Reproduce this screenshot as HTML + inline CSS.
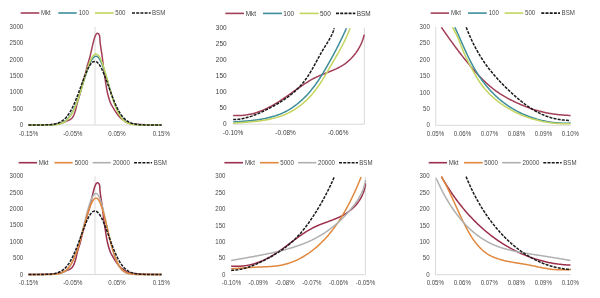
<!DOCTYPE html>
<html><head><meta charset="utf-8"><style>
html,body{margin:0;padding:0;background:#fff;}
svg{display:block;filter:blur(0.3px);}
text{font-family:"Liberation Sans", sans-serif;}
</style></head><body>
<svg width="600" height="298" viewBox="0 0 600 298">
<rect width="600" height="298" fill="#fff"/>
<text transform="translate(23.20,127.10) scale(0.900,1)" text-anchor="end" font-size="6.80" fill="#474747">0</text>
<text transform="translate(23.20,110.77) scale(0.900,1)" text-anchor="end" font-size="6.80" fill="#474747">500</text>
<text transform="translate(23.20,94.43) scale(0.900,1)" text-anchor="end" font-size="6.80" fill="#474747">1000</text>
<text transform="translate(23.20,78.10) scale(0.900,1)" text-anchor="end" font-size="6.80" fill="#474747">1500</text>
<text transform="translate(23.20,61.77) scale(0.900,1)" text-anchor="end" font-size="6.80" fill="#474747">2000</text>
<text transform="translate(23.20,45.43) scale(0.900,1)" text-anchor="end" font-size="6.80" fill="#474747">2500</text>
<text transform="translate(23.20,29.10) scale(0.900,1)" text-anchor="end" font-size="6.80" fill="#474747">3000</text>
<line x1="28.00" y1="125.00" x2="162.00" y2="125.00" stroke="#d9d9d9" stroke-width="1.00"/>
<line x1="95.00" y1="27.00" x2="95.00" y2="125.00" stroke="#d9d9d9" stroke-width="1.00"/>
<text transform="translate(28.50,135.50) scale(0.900,1)" text-anchor="middle" font-size="6.80" fill="#474747">-0.15%</text>
<text transform="translate(72.80,135.50) scale(0.900,1)" text-anchor="middle" font-size="6.80" fill="#474747">-0.05%</text>
<text transform="translate(117.00,135.50) scale(0.900,1)" text-anchor="middle" font-size="6.80" fill="#474747">0.05%</text>
<text transform="translate(161.30,135.50) scale(0.900,1)" text-anchor="middle" font-size="6.80" fill="#474747">0.15%</text>
<line x1="20.70" y1="13.00" x2="39.30" y2="13.00" stroke="#a23f58" stroke-width="1.6"/>
<text transform="translate(40.90,15.10) scale(0.900,1)" text-anchor="start" font-size="6.80" fill="#474747">Mkt</text>
<line x1="58.30" y1="13.00" x2="76.70" y2="13.00" stroke="#3e8e9b" stroke-width="1.6"/>
<text transform="translate(78.70,15.10) scale(0.900,1)" text-anchor="start" font-size="6.80" fill="#474747">100</text>
<line x1="95.00" y1="13.00" x2="113.70" y2="13.00" stroke="#c3d45f" stroke-width="1.6"/>
<text transform="translate(115.30,15.10) scale(0.900,1)" text-anchor="start" font-size="6.80" fill="#474747">500</text>
<line x1="132.00" y1="13.00" x2="150.70" y2="13.00" stroke="#1a1a1a" stroke-width="1.6" stroke-dasharray="3,1.2"/>
<text transform="translate(152.00,15.10) scale(0.900,1)" text-anchor="start" font-size="6.80" fill="#474747">BSM</text>
<path d="M28.50,124.90 C31.25,124.88 40.58,124.92 45.00,124.80 C49.42,124.68 52.50,124.42 55.00,124.20 C57.50,123.98 58.50,123.80 60.00,123.50 C61.50,123.20 62.98,122.77 64.00,122.40 C65.02,122.03 65.08,121.75 66.10,121.30 C67.12,120.85 68.93,120.47 70.10,119.70 C71.27,118.93 72.18,118.30 73.10,116.70 C74.02,115.10 74.87,112.55 75.60,110.10 C76.33,107.65 76.82,104.52 77.50,102.00 C78.18,99.48 79.03,97.33 79.70,95.00 C80.37,92.67 80.87,90.50 81.50,88.00 C82.13,85.50 82.83,82.50 83.50,80.00 C84.17,77.50 84.83,75.50 85.50,73.00 C86.17,70.50 86.77,67.67 87.50,65.00 C88.23,62.33 88.97,60.65 89.90,57.00 C90.83,53.35 92.25,46.52 93.10,43.10 C93.95,39.68 94.32,38.13 95.00,36.50 C95.68,34.87 96.45,33.47 97.20,33.30 C97.95,33.13 99.00,33.87 99.50,35.50 C100.00,37.13 99.72,39.35 100.20,43.10 C100.68,46.85 101.88,54.18 102.40,58.00 C102.92,61.82 102.95,63.17 103.30,66.00 C103.65,68.83 104.05,71.83 104.50,75.00 C104.95,78.17 105.48,81.92 106.00,85.00 C106.52,88.08 106.88,90.58 107.60,93.50 C108.32,96.42 109.32,100.03 110.30,102.50 C111.28,104.97 112.47,106.55 113.50,108.30 C114.53,110.05 115.42,111.47 116.50,113.00 C117.58,114.53 119.00,116.43 120.00,117.50 C121.00,118.57 121.50,118.65 122.50,119.40 C123.50,120.15 124.75,121.32 126.00,122.00 C127.25,122.68 127.67,123.08 130.00,123.50 C132.33,123.92 134.75,124.25 140.00,124.50 C145.25,124.75 157.92,124.92 161.50,125.00" fill="none" stroke="#a23f58" stroke-width="1.50" stroke-linejoin="round"/>
<path d="M28.50,125.00 C28.78,125.00 29.61,125.00 30.16,125.00 C30.72,125.00 31.27,125.00 31.82,125.00 C32.38,125.00 32.93,125.00 33.49,125.00 C34.04,125.00 34.60,125.00 35.15,125.00 C35.70,125.00 36.26,125.00 36.81,125.00 C37.37,125.00 37.92,125.00 38.48,125.00 C39.03,125.00 39.58,125.00 40.14,124.99 C40.69,124.99 41.25,124.99 41.80,124.99 C42.35,124.99 42.91,124.99 43.46,124.98 C44.02,124.98 44.57,124.98 45.12,124.97 C45.68,124.97 46.23,124.96 46.79,124.95 C47.34,124.94 47.90,124.94 48.45,124.92 C49.00,124.91 49.56,124.90 50.11,124.88 C50.67,124.86 51.22,124.84 51.77,124.81 C52.33,124.78 52.88,124.75 53.44,124.70 C53.99,124.66 54.55,124.61 55.10,124.55 C55.65,124.49 56.21,124.42 56.76,124.33 C57.32,124.24 57.87,124.14 58.42,124.01 C58.98,123.89 59.53,123.75 60.09,123.57 C60.64,123.40 61.20,123.21 61.75,122.97 C62.30,122.74 62.86,122.48 63.41,122.17 C63.97,121.86 64.52,121.52 65.08,121.11 C65.63,120.71 66.18,120.26 66.74,119.75 C67.29,119.23 67.85,118.67 68.40,118.02 C68.95,117.38 69.51,116.68 70.06,115.89 C70.62,115.10 71.17,114.24 71.72,113.29 C72.28,112.34 72.83,111.31 73.39,110.20 C73.94,109.08 74.50,107.88 75.05,106.60 C75.60,105.32 76.16,103.94 76.71,102.50 C77.27,101.06 77.82,99.53 78.38,97.95 C78.93,96.36 79.48,94.70 80.04,93.00 C80.59,91.31 81.15,89.55 81.70,87.78 C82.25,86.02 82.81,84.20 83.36,82.42 C83.92,80.64 84.47,78.83 85.03,77.09 C85.58,75.35 86.13,73.61 86.69,71.98 C87.24,70.35 87.80,68.75 88.35,67.29 C88.90,65.83 89.46,64.45 90.01,63.23 C90.57,62.00 91.12,60.89 91.67,59.96 C92.23,59.03 92.78,58.24 93.34,57.65 C93.89,57.06 94.45,56.63 95.00,56.41 C95.55,56.18 96.11,56.13 96.66,56.30 C97.22,56.47 97.77,56.86 98.33,57.44 C98.88,58.02 99.43,58.82 99.99,59.78 C100.54,60.74 101.10,61.91 101.65,63.20 C102.20,64.49 102.76,65.96 103.31,67.51 C103.87,69.06 104.42,70.77 104.97,72.51 C105.53,74.25 106.08,76.11 106.64,77.96 C107.19,79.81 107.75,81.73 108.30,83.61 C108.85,85.50 109.41,87.41 109.96,89.26 C110.52,91.11 111.07,92.95 111.62,94.70 C112.18,96.46 112.73,98.17 113.29,99.79 C113.84,101.41 114.40,102.96 114.95,104.41 C115.50,105.86 116.06,107.22 116.61,108.49 C117.17,109.76 117.72,110.93 118.28,112.01 C118.83,113.09 119.38,114.07 119.94,114.96 C120.49,115.86 121.05,116.66 121.60,117.39 C122.15,118.12 122.71,118.76 123.26,119.33 C123.82,119.91 124.37,120.41 124.92,120.86 C125.48,121.31 126.03,121.69 126.59,122.03 C127.14,122.37 127.70,122.66 128.25,122.91 C128.80,123.16 129.36,123.37 129.91,123.56 C130.47,123.74 131.02,123.89 131.57,124.02 C132.13,124.15 132.68,124.26 133.24,124.35 C133.79,124.44 134.35,124.51 134.90,124.57 C135.45,124.64 136.01,124.68 136.56,124.73 C137.12,124.77 137.67,124.80 138.22,124.83 C138.78,124.86 139.33,124.88 139.89,124.89 C140.44,124.91 141.00,124.92 141.55,124.94 C142.10,124.95 142.66,124.95 143.21,124.96 C143.77,124.97 144.32,124.97 144.88,124.98 C145.43,124.98 145.98,124.98 146.54,124.99 C147.09,124.99 147.65,124.99 148.20,124.99 C148.75,124.99 149.31,125.00 149.86,125.00 C150.42,125.00 150.97,125.00 151.53,125.00 C152.08,125.00 152.63,125.00 153.19,125.00 C153.74,125.00 154.30,125.00 154.85,125.00 C155.40,125.00 155.96,125.00 156.51,125.00 C157.07,125.00 157.62,125.00 158.18,125.00 C158.73,125.00 159.28,125.00 159.84,125.00 C160.39,125.00 161.22,125.00 161.50,125.00" fill="none" stroke="#3e8e9b" stroke-width="1.50" stroke-linejoin="round"/>
<path d="M28.50,125.00 C28.78,125.00 29.61,125.00 30.16,125.00 C30.72,125.00 31.27,125.00 31.82,125.00 C32.38,125.00 32.93,125.00 33.49,125.00 C34.04,125.00 34.60,125.00 35.15,125.00 C35.70,125.00 36.26,125.00 36.81,125.00 C37.37,125.00 37.92,125.00 38.48,125.00 C39.03,125.00 39.58,125.00 40.14,125.00 C40.69,125.00 41.25,124.99 41.80,124.99 C42.35,124.99 42.91,124.99 43.46,124.99 C44.02,124.99 44.57,124.98 45.12,124.98 C45.68,124.98 46.23,124.97 46.79,124.97 C47.34,124.96 47.90,124.95 48.45,124.94 C49.00,124.93 49.56,124.92 50.11,124.91 C50.67,124.89 51.22,124.87 51.77,124.85 C52.33,124.83 52.88,124.80 53.44,124.76 C53.99,124.73 54.55,124.69 55.10,124.63 C55.65,124.58 56.21,124.52 56.76,124.44 C57.32,124.37 57.87,124.28 58.42,124.17 C58.98,124.06 59.53,123.93 60.09,123.78 C60.64,123.62 61.20,123.45 61.75,123.23 C62.30,123.02 62.86,122.78 63.41,122.50 C63.97,122.21 64.52,121.89 65.08,121.51 C65.63,121.13 66.18,120.71 66.74,120.21 C67.29,119.72 67.85,119.18 68.40,118.55 C68.95,117.93 69.51,117.24 70.06,116.47 C70.62,115.69 71.17,114.84 71.72,113.90 C72.28,112.96 72.83,111.93 73.39,110.81 C73.94,109.69 74.50,108.48 75.05,107.18 C75.60,105.88 76.16,104.48 76.71,103.00 C77.27,101.52 77.82,99.95 78.38,98.31 C78.93,96.67 79.48,94.94 80.04,93.18 C80.59,91.41 81.15,89.56 81.70,87.71 C82.25,85.86 82.81,83.95 83.36,82.06 C83.92,80.18 84.47,78.26 85.03,76.41 C85.58,74.56 86.13,72.71 86.69,70.97 C87.24,69.23 87.80,67.52 88.35,65.95 C88.90,64.39 89.46,62.90 90.01,61.58 C90.57,60.27 91.12,59.06 91.67,58.06 C92.23,57.06 92.78,56.21 93.34,55.57 C93.89,54.93 94.45,54.47 95.00,54.22 C95.55,53.98 96.11,53.92 96.66,54.11 C97.22,54.30 97.77,54.71 98.33,55.34 C98.88,55.97 99.43,56.84 99.99,57.88 C100.54,58.91 101.10,60.18 101.65,61.57 C102.20,62.96 102.76,64.55 103.31,66.22 C103.87,67.88 104.42,69.71 104.97,71.58 C105.53,73.44 106.08,75.42 106.64,77.39 C107.19,79.35 107.75,81.39 108.30,83.38 C108.85,85.37 109.41,87.39 109.96,89.33 C110.52,91.27 111.07,93.19 111.62,95.02 C112.18,96.84 112.73,98.62 113.29,100.28 C113.84,101.95 114.40,103.54 114.95,105.02 C115.50,106.50 116.06,107.88 116.61,109.16 C117.17,110.44 117.72,111.61 118.28,112.69 C118.83,113.76 119.38,114.73 119.94,115.61 C120.49,116.49 121.05,117.27 121.60,117.98 C122.15,118.69 122.71,119.30 123.26,119.85 C123.82,120.41 124.37,120.88 124.92,121.30 C125.48,121.72 126.03,122.07 126.59,122.39 C127.14,122.71 127.70,122.96 128.25,123.20 C128.80,123.43 129.36,123.61 129.91,123.78 C130.47,123.94 131.02,124.07 131.57,124.19 C132.13,124.30 132.68,124.39 133.24,124.47 C133.79,124.55 134.35,124.61 134.90,124.66 C135.45,124.71 136.01,124.75 136.56,124.79 C137.12,124.82 137.67,124.85 138.22,124.87 C138.78,124.89 139.33,124.91 139.89,124.92 C140.44,124.94 141.00,124.94 141.55,124.95 C142.10,124.96 142.66,124.97 143.21,124.97 C143.77,124.98 144.32,124.98 144.88,124.98 C145.43,124.99 145.98,124.99 146.54,124.99 C147.09,124.99 147.65,124.99 148.20,125.00 C148.75,125.00 149.31,125.00 149.86,125.00 C150.42,125.00 150.97,125.00 151.53,125.00 C152.08,125.00 152.63,125.00 153.19,125.00 C153.74,125.00 154.30,125.00 154.85,125.00 C155.40,125.00 155.96,125.00 156.51,125.00 C157.07,125.00 157.62,125.00 158.18,125.00 C158.73,125.00 159.28,125.00 159.84,125.00 C160.39,125.00 161.22,125.00 161.50,125.00" fill="none" stroke="#c3d45f" stroke-width="1.50" stroke-linejoin="round"/>
<path d="M28.50,125.00 C28.78,125.00 29.61,125.00 30.16,125.00 C30.72,125.00 31.27,125.00 31.82,125.00 C32.38,125.00 32.93,125.00 33.49,125.00 C34.04,125.00 34.60,124.99 35.15,124.99 C35.70,124.99 36.26,124.99 36.81,124.99 C37.37,124.99 37.92,124.99 38.48,124.98 C39.03,124.98 39.58,124.98 40.14,124.97 C40.69,124.97 41.25,124.96 41.80,124.96 C42.35,124.95 42.91,124.94 43.46,124.93 C44.02,124.92 44.57,124.91 45.12,124.89 C45.68,124.88 46.23,124.86 46.79,124.84 C47.34,124.81 47.90,124.79 48.45,124.76 C49.00,124.72 49.56,124.68 50.11,124.64 C50.67,124.59 51.22,124.54 51.77,124.47 C52.33,124.41 52.88,124.33 53.44,124.24 C53.99,124.15 54.55,124.05 55.10,123.92 C55.65,123.80 56.21,123.66 56.76,123.50 C57.32,123.33 57.87,123.15 58.42,122.93 C58.98,122.71 59.53,122.47 60.09,122.19 C60.64,121.90 61.20,121.59 61.75,121.23 C62.30,120.88 62.86,120.48 63.41,120.03 C63.97,119.58 64.52,119.09 65.08,118.54 C65.63,117.98 66.18,117.38 66.74,116.71 C67.29,116.04 67.85,115.32 68.40,114.53 C68.95,113.73 69.51,112.87 70.06,111.95 C70.62,111.02 71.17,110.03 71.72,108.97 C72.28,107.91 72.83,106.77 73.39,105.58 C73.94,104.39 74.50,103.13 75.05,101.82 C75.60,100.51 76.16,99.14 76.71,97.72 C77.27,96.31 77.82,94.84 78.38,93.36 C78.93,91.87 79.48,90.34 80.04,88.82 C80.59,87.29 81.15,85.73 81.70,84.21 C82.25,82.68 82.81,81.14 83.36,79.67 C83.92,78.19 84.47,76.72 85.03,75.33 C85.58,73.95 86.13,72.60 86.69,71.36 C87.24,70.12 87.80,68.94 88.35,67.89 C88.90,66.84 89.46,65.88 90.01,65.06 C90.57,64.25 91.12,63.54 91.67,62.99 C92.23,62.44 92.78,62.01 93.34,61.75 C93.89,61.49 94.45,61.37 95.00,61.41 C95.55,61.44 96.11,61.64 96.66,61.98 C97.22,62.32 97.77,62.81 98.33,63.44 C98.88,64.07 99.43,64.85 99.99,65.74 C100.54,66.63 101.10,67.66 101.65,68.77 C102.20,69.89 102.76,71.12 103.31,72.42 C103.87,73.71 104.42,75.11 104.97,76.54 C105.53,77.96 106.08,79.47 106.64,80.98 C107.19,82.49 107.75,84.05 108.30,85.59 C108.85,87.13 109.41,88.69 109.96,90.22 C110.52,91.75 111.07,93.28 111.62,94.75 C112.18,96.23 112.73,97.68 113.29,99.07 C113.84,100.46 114.40,101.82 114.95,103.10 C115.50,104.38 116.06,105.61 116.61,106.76 C117.17,107.92 117.72,109.01 118.28,110.03 C118.83,111.06 119.38,112.01 119.94,112.90 C120.49,113.78 121.05,114.60 121.60,115.35 C122.15,116.10 122.71,116.79 123.26,117.42 C123.82,118.05 124.37,118.61 124.92,119.13 C125.48,119.65 126.03,120.10 126.59,120.52 C127.14,120.94 127.70,121.30 128.25,121.63 C128.80,121.96 129.36,122.24 129.91,122.50 C130.47,122.76 131.02,122.98 131.57,123.17 C132.13,123.37 132.68,123.54 133.24,123.69 C133.79,123.83 134.35,123.96 134.90,124.07 C135.45,124.18 136.01,124.27 136.56,124.35 C137.12,124.43 137.67,124.49 138.22,124.55 C138.78,124.61 139.33,124.65 139.89,124.69 C140.44,124.74 141.00,124.77 141.55,124.80 C142.10,124.82 142.66,124.85 143.21,124.86 C143.77,124.88 144.32,124.90 144.88,124.91 C145.43,124.93 145.98,124.93 146.54,124.94 C147.09,124.95 147.65,124.96 148.20,124.96 C148.75,124.97 149.31,124.97 149.86,124.98 C150.42,124.98 150.97,124.98 151.53,124.99 C152.08,124.99 152.63,124.99 153.19,124.99 C153.74,124.99 154.30,124.99 154.85,125.00 C155.40,125.00 155.96,125.00 156.51,125.00 C157.07,125.00 157.62,125.00 158.18,125.00 C158.73,125.00 159.28,125.00 159.84,125.00 C160.39,125.00 161.22,125.00 161.50,125.00" fill="none" stroke="#1a1a1a" stroke-width="1.50" stroke-linejoin="round" stroke-dasharray="3,1.2"/>
<text transform="translate(23.20,276.60) scale(0.900,1)" text-anchor="end" font-size="6.80" fill="#474747">0</text>
<text transform="translate(23.20,260.22) scale(0.900,1)" text-anchor="end" font-size="6.80" fill="#474747">500</text>
<text transform="translate(23.20,243.83) scale(0.900,1)" text-anchor="end" font-size="6.80" fill="#474747">1000</text>
<text transform="translate(23.20,227.45) scale(0.900,1)" text-anchor="end" font-size="6.80" fill="#474747">1500</text>
<text transform="translate(23.20,211.07) scale(0.900,1)" text-anchor="end" font-size="6.80" fill="#474747">2000</text>
<text transform="translate(23.20,194.68) scale(0.900,1)" text-anchor="end" font-size="6.80" fill="#474747">2500</text>
<text transform="translate(23.20,178.30) scale(0.900,1)" text-anchor="end" font-size="6.80" fill="#474747">3000</text>
<line x1="28.00" y1="274.50" x2="162.00" y2="274.50" stroke="#d9d9d9" stroke-width="1.00"/>
<line x1="95.00" y1="176.20" x2="95.00" y2="274.50" stroke="#d9d9d9" stroke-width="1.00"/>
<text transform="translate(28.50,285.00) scale(0.900,1)" text-anchor="middle" font-size="6.80" fill="#474747">-0.15%</text>
<text transform="translate(72.80,285.00) scale(0.900,1)" text-anchor="middle" font-size="6.80" fill="#474747">-0.05%</text>
<text transform="translate(117.00,285.00) scale(0.900,1)" text-anchor="middle" font-size="6.80" fill="#474747">0.05%</text>
<text transform="translate(161.30,285.00) scale(0.900,1)" text-anchor="middle" font-size="6.80" fill="#474747">0.15%</text>
<line x1="18.70" y1="162.70" x2="37.00" y2="162.70" stroke="#9b2f4c" stroke-width="1.6"/>
<text transform="translate(38.70,164.80) scale(0.900,1)" text-anchor="start" font-size="6.80" fill="#474747">Mkt</text>
<line x1="54.40" y1="162.70" x2="72.70" y2="162.70" stroke="#e0893e" stroke-width="1.6"/>
<text transform="translate(74.70,164.80) scale(0.900,1)" text-anchor="start" font-size="6.80" fill="#474747">5000</text>
<line x1="92.70" y1="162.70" x2="110.70" y2="162.70" stroke="#b0b0b0" stroke-width="1.6"/>
<text transform="translate(112.90,164.80) scale(0.900,1)" text-anchor="start" font-size="6.80" fill="#474747">20000</text>
<line x1="134.00" y1="162.70" x2="152.00" y2="162.70" stroke="#1a1a1a" stroke-width="1.6" stroke-dasharray="3,1.2"/>
<text transform="translate(153.70,164.80) scale(0.900,1)" text-anchor="start" font-size="6.80" fill="#474747">BSM</text>
<path d="M28.50,274.40 C31.25,274.38 40.58,274.42 45.00,274.30 C49.42,274.18 52.50,273.92 55.00,273.70 C57.50,273.48 58.50,273.30 60.00,273.00 C61.50,272.70 62.98,272.27 64.00,271.90 C65.02,271.53 65.08,271.25 66.10,270.80 C67.12,270.35 68.93,269.97 70.10,269.20 C71.27,268.43 72.18,267.80 73.10,266.20 C74.02,264.60 74.87,262.05 75.60,259.60 C76.33,257.15 76.82,254.02 77.50,251.50 C78.18,248.98 79.03,246.83 79.70,244.50 C80.37,242.17 80.87,240.00 81.50,237.50 C82.13,235.00 82.83,232.00 83.50,229.50 C84.17,227.00 84.83,225.00 85.50,222.50 C86.17,220.00 86.77,217.17 87.50,214.50 C88.23,211.83 88.97,210.15 89.90,206.50 C90.83,202.85 92.25,196.02 93.10,192.60 C93.95,189.18 94.32,187.63 95.00,186.00 C95.68,184.37 96.45,182.97 97.20,182.80 C97.95,182.63 99.00,183.37 99.50,185.00 C100.00,186.63 99.72,188.85 100.20,192.60 C100.68,196.35 101.88,203.68 102.40,207.50 C102.92,211.32 102.95,212.67 103.30,215.50 C103.65,218.33 104.05,221.33 104.50,224.50 C104.95,227.67 105.48,231.42 106.00,234.50 C106.52,237.58 106.88,240.08 107.60,243.00 C108.32,245.92 109.32,249.53 110.30,252.00 C111.28,254.47 112.47,256.05 113.50,257.80 C114.53,259.55 115.42,260.97 116.50,262.50 C117.58,264.03 119.00,265.93 120.00,267.00 C121.00,268.07 121.50,268.15 122.50,268.90 C123.50,269.65 124.75,270.82 126.00,271.50 C127.25,272.18 127.67,272.58 130.00,273.00 C132.33,273.42 134.75,273.75 140.00,274.00 C145.25,274.25 157.92,274.42 161.50,274.50" fill="none" stroke="#9b2f4c" stroke-width="1.50" stroke-linejoin="round"/>
<path d="M28.50,274.50 C28.78,274.50 29.61,274.50 30.16,274.50 C30.72,274.50 31.27,274.50 31.82,274.50 C32.38,274.50 32.93,274.50 33.49,274.50 C34.04,274.50 34.60,274.50 35.15,274.50 C35.70,274.50 36.26,274.50 36.81,274.50 C37.37,274.50 37.92,274.50 38.48,274.50 C39.03,274.50 39.58,274.50 40.14,274.50 C40.69,274.50 41.25,274.50 41.80,274.50 C42.35,274.49 42.91,274.49 43.46,274.49 C44.02,274.49 44.57,274.49 45.12,274.49 C45.68,274.48 46.23,274.48 46.79,274.48 C47.34,274.47 47.90,274.47 48.45,274.46 C49.00,274.45 49.56,274.44 50.11,274.43 C50.67,274.42 51.22,274.41 51.77,274.39 C52.33,274.37 52.88,274.35 53.44,274.32 C53.99,274.29 54.55,274.25 55.10,274.21 C55.65,274.16 56.21,274.11 56.76,274.04 C57.32,273.97 57.87,273.89 58.42,273.79 C58.98,273.69 59.53,273.58 60.09,273.44 C60.64,273.29 61.20,273.13 61.75,272.93 C62.30,272.72 62.86,272.49 63.41,272.21 C63.97,271.93 64.52,271.62 65.08,271.24 C65.63,270.86 66.18,270.44 66.74,269.94 C67.29,269.44 67.85,268.88 68.40,268.23 C68.95,267.58 69.51,266.87 70.06,266.05 C70.62,265.23 71.17,264.33 71.72,263.31 C72.28,262.30 72.83,261.19 73.39,259.96 C73.94,258.74 74.50,257.40 75.05,255.96 C75.60,254.51 76.16,252.95 76.71,251.29 C77.27,249.62 77.82,247.84 78.38,245.97 C78.93,244.10 79.48,242.12 80.04,240.09 C80.59,238.05 81.15,235.91 81.70,233.75 C82.25,231.59 82.81,229.35 83.36,227.13 C83.92,224.92 84.47,222.65 85.03,220.45 C85.58,218.26 86.13,216.05 86.69,213.97 C87.24,211.89 87.80,209.84 88.35,207.96 C88.90,206.08 89.46,204.28 90.01,202.69 C90.57,201.10 91.12,199.65 91.67,198.43 C92.23,197.22 92.78,196.18 93.34,195.41 C93.89,194.63 94.45,194.06 95.00,193.77 C95.55,193.48 96.11,193.39 96.66,193.65 C97.22,193.92 97.77,194.49 98.33,195.36 C98.88,196.22 99.43,197.42 99.99,198.84 C100.54,200.25 101.10,201.98 101.65,203.86 C102.20,205.74 102.76,207.88 103.31,210.09 C103.87,212.31 104.42,214.73 104.97,217.15 C105.53,219.57 106.08,222.13 106.64,224.63 C107.19,227.13 107.75,229.69 108.30,232.15 C108.85,234.61 109.41,237.06 109.96,239.38 C110.52,241.70 111.07,243.95 111.62,246.06 C112.18,248.16 112.73,250.16 113.29,252.00 C113.84,253.85 114.40,255.56 114.95,257.12 C115.50,258.69 116.06,260.11 116.61,261.39 C117.17,262.68 117.72,263.82 118.28,264.84 C118.83,265.87 119.38,266.76 119.94,267.55 C120.49,268.35 121.05,269.02 121.60,269.62 C122.15,270.22 122.71,270.71 123.26,271.15 C123.82,271.59 124.37,271.94 124.92,272.26 C125.48,272.57 126.03,272.81 126.59,273.03 C127.14,273.25 127.70,273.41 128.25,273.56 C128.80,273.71 129.36,273.82 129.91,273.91 C130.47,274.01 131.02,274.08 131.57,274.14 C132.13,274.21 132.68,274.25 133.24,274.29 C133.79,274.33 134.35,274.35 134.90,274.38 C135.45,274.40 136.01,274.42 136.56,274.43 C137.12,274.44 137.67,274.45 138.22,274.46 C138.78,274.47 139.33,274.47 139.89,274.48 C140.44,274.48 141.00,274.49 141.55,274.49 C142.10,274.49 142.66,274.49 143.21,274.49 C143.77,274.50 144.32,274.50 144.88,274.50 C145.43,274.50 145.98,274.50 146.54,274.50 C147.09,274.50 147.65,274.50 148.20,274.50 C148.75,274.50 149.31,274.50 149.86,274.50 C150.42,274.50 150.97,274.50 151.53,274.50 C152.08,274.50 152.63,274.50 153.19,274.50 C153.74,274.50 154.30,274.50 154.85,274.50 C155.40,274.50 155.96,274.50 156.51,274.50 C157.07,274.50 157.62,274.50 158.18,274.50 C158.73,274.50 159.28,274.50 159.84,274.50 C160.39,274.50 161.22,274.50 161.50,274.50" fill="none" stroke="#b0b0b0" stroke-width="1.50" stroke-linejoin="round"/>
<path d="M28.50,274.50 C28.78,274.50 29.61,274.50 30.16,274.50 C30.72,274.50 31.27,274.50 31.82,274.50 C32.38,274.50 32.93,274.50 33.49,274.50 C34.04,274.50 34.60,274.50 35.15,274.50 C35.70,274.50 36.26,274.50 36.81,274.50 C37.37,274.50 37.92,274.50 38.48,274.50 C39.03,274.50 39.58,274.50 40.14,274.50 C40.69,274.50 41.25,274.49 41.80,274.49 C42.35,274.49 42.91,274.49 43.46,274.49 C44.02,274.49 44.57,274.48 45.12,274.48 C45.68,274.48 46.23,274.47 46.79,274.47 C47.34,274.46 47.90,274.45 48.45,274.44 C49.00,274.43 49.56,274.42 50.11,274.40 C50.67,274.39 51.22,274.37 51.77,274.35 C52.33,274.32 52.88,274.30 53.44,274.26 C53.99,274.22 54.55,274.18 55.10,274.13 C55.65,274.07 56.21,274.01 56.76,273.93 C57.32,273.85 57.87,273.76 58.42,273.65 C58.98,273.53 59.53,273.40 60.09,273.24 C60.64,273.08 61.20,272.90 61.75,272.68 C62.30,272.46 62.86,272.21 63.41,271.91 C63.97,271.61 64.52,271.28 65.08,270.89 C65.63,270.49 66.18,270.05 66.74,269.54 C67.29,269.02 67.85,268.45 68.40,267.80 C68.95,267.15 69.51,266.43 70.06,265.61 C70.62,264.80 71.17,263.91 71.72,262.92 C72.28,261.93 72.83,260.85 73.39,259.66 C73.94,258.48 74.50,257.20 75.05,255.83 C75.60,254.45 76.16,252.97 76.71,251.40 C77.27,249.83 77.82,248.16 78.38,246.41 C78.93,244.67 79.48,242.83 80.04,240.94 C80.59,239.06 81.15,237.08 81.70,235.10 C82.25,233.11 82.81,231.06 83.36,229.03 C83.92,227.01 84.47,224.94 85.03,222.94 C85.58,220.95 86.13,218.94 86.69,217.05 C87.24,215.15 87.80,213.29 88.35,211.58 C88.90,209.87 89.46,208.23 90.01,206.78 C90.57,205.33 91.12,203.99 91.67,202.87 C92.23,201.75 92.78,200.78 93.34,200.05 C93.89,199.31 94.45,198.76 95.00,198.45 C95.55,198.13 96.11,197.99 96.66,198.17 C97.22,198.35 97.77,198.79 98.33,199.51 C98.88,200.23 99.43,201.26 99.99,202.50 C100.54,203.73 101.10,205.26 101.65,206.92 C102.20,208.59 102.76,210.51 103.31,212.51 C103.87,214.51 104.42,216.71 104.97,218.92 C105.53,221.14 106.08,223.48 106.64,225.79 C107.19,228.10 107.75,230.48 108.30,232.78 C108.85,235.08 109.41,237.38 109.96,239.57 C110.52,241.76 111.07,243.91 111.62,245.92 C112.18,247.93 112.73,249.85 113.29,251.64 C113.84,253.42 114.40,255.09 114.95,256.63 C115.50,258.16 116.06,259.56 116.61,260.84 C117.17,262.12 117.72,263.27 118.28,264.30 C118.83,265.34 119.38,266.24 119.94,267.05 C120.49,267.87 121.05,268.56 121.60,269.19 C122.15,269.81 122.71,270.33 123.26,270.80 C123.82,271.26 124.37,271.64 124.92,271.97 C125.48,272.31 126.03,272.58 126.59,272.82 C127.14,273.06 127.70,273.24 128.25,273.40 C128.80,273.57 129.36,273.69 129.91,273.80 C130.47,273.91 131.02,273.99 131.57,274.07 C132.13,274.14 132.68,274.19 133.24,274.24 C133.79,274.28 134.35,274.31 134.90,274.34 C135.45,274.37 136.01,274.39 136.56,274.41 C137.12,274.43 137.67,274.44 138.22,274.45 C138.78,274.46 139.33,274.47 139.89,274.47 C140.44,274.48 141.00,274.48 141.55,274.48 C142.10,274.49 142.66,274.49 143.21,274.49 C143.77,274.49 144.32,274.49 144.88,274.50 C145.43,274.50 145.98,274.50 146.54,274.50 C147.09,274.50 147.65,274.50 148.20,274.50 C148.75,274.50 149.31,274.50 149.86,274.50 C150.42,274.50 150.97,274.50 151.53,274.50 C152.08,274.50 152.63,274.50 153.19,274.50 C153.74,274.50 154.30,274.50 154.85,274.50 C155.40,274.50 155.96,274.50 156.51,274.50 C157.07,274.50 157.62,274.50 158.18,274.50 C158.73,274.50 159.28,274.50 159.84,274.50 C160.39,274.50 161.22,274.50 161.50,274.50" fill="none" stroke="#e0893e" stroke-width="1.50" stroke-linejoin="round"/>
<path d="M28.50,274.50 C28.78,274.50 29.61,274.50 30.16,274.50 C30.72,274.50 31.27,274.50 31.82,274.50 C32.38,274.50 32.93,274.50 33.49,274.50 C34.04,274.50 34.60,274.49 35.15,274.49 C35.70,274.49 36.26,274.49 36.81,274.49 C37.37,274.49 37.92,274.49 38.48,274.48 C39.03,274.48 39.58,274.48 40.14,274.47 C40.69,274.47 41.25,274.46 41.80,274.46 C42.35,274.45 42.91,274.44 43.46,274.43 C44.02,274.42 44.57,274.41 45.12,274.40 C45.68,274.38 46.23,274.36 46.79,274.34 C47.34,274.32 47.90,274.29 48.45,274.26 C49.00,274.23 49.56,274.19 50.11,274.15 C50.67,274.10 51.22,274.05 51.77,273.98 C52.33,273.92 52.88,273.85 53.44,273.76 C53.99,273.67 54.55,273.57 55.10,273.45 C55.65,273.33 56.21,273.19 56.76,273.03 C57.32,272.86 57.87,272.68 58.42,272.47 C58.98,272.26 59.53,272.02 60.09,271.74 C60.64,271.46 61.20,271.16 61.75,270.80 C62.30,270.45 62.86,270.06 63.41,269.62 C63.97,269.18 64.52,268.69 65.08,268.15 C65.63,267.60 66.18,267.01 66.74,266.35 C67.29,265.69 67.85,264.97 68.40,264.18 C68.95,263.40 69.51,262.55 70.06,261.63 C70.62,260.72 71.17,259.73 71.72,258.68 C72.28,257.63 72.83,256.51 73.39,255.33 C73.94,254.15 74.50,252.90 75.05,251.59 C75.60,250.29 76.16,248.93 76.71,247.52 C77.27,246.12 77.82,244.66 78.38,243.18 C78.93,241.70 79.48,240.17 80.04,238.65 C80.59,237.13 81.15,235.57 81.70,234.05 C82.25,232.52 82.81,230.99 83.36,229.50 C83.92,228.02 84.47,226.55 85.03,225.16 C85.58,223.77 86.13,222.42 86.69,221.17 C87.24,219.92 87.80,218.73 88.35,217.67 C88.90,216.61 89.46,215.64 90.01,214.81 C90.57,213.98 91.12,213.25 91.67,212.69 C92.23,212.12 92.78,211.68 93.34,211.40 C93.89,211.12 94.45,210.98 95.00,211.00 C95.55,211.02 96.11,211.20 96.66,211.52 C97.22,211.84 97.77,212.32 98.33,212.93 C98.88,213.54 99.43,214.30 99.99,215.17 C100.54,216.04 101.10,217.06 101.65,218.16 C102.20,219.26 102.76,220.48 103.31,221.77 C103.87,223.05 104.42,224.44 104.97,225.86 C105.53,227.27 106.08,228.77 106.64,230.27 C107.19,231.78 107.75,233.33 108.30,234.87 C108.85,236.41 109.41,237.97 109.96,239.50 C110.52,241.03 111.07,242.56 111.62,244.03 C112.18,245.51 112.73,246.97 113.29,248.36 C113.84,249.76 114.40,251.11 114.95,252.40 C115.50,253.69 116.06,254.92 116.61,256.08 C117.17,257.24 117.72,258.34 118.28,259.37 C118.83,260.40 119.38,261.36 119.94,262.25 C120.49,263.15 121.05,263.97 121.60,264.73 C122.15,265.49 122.71,266.18 123.26,266.82 C123.82,267.45 124.37,268.02 124.92,268.55 C125.48,269.07 126.03,269.53 126.59,269.95 C127.14,270.37 127.70,270.74 128.25,271.08 C128.80,271.41 129.36,271.70 129.91,271.96 C130.47,272.22 131.02,272.44 131.57,272.64 C132.13,272.84 132.68,273.01 133.24,273.16 C133.79,273.31 134.35,273.44 134.90,273.55 C135.45,273.66 136.01,273.75 136.56,273.83 C137.12,273.92 137.67,273.98 138.22,274.04 C138.78,274.10 139.33,274.15 139.89,274.19 C140.44,274.23 141.00,274.26 141.55,274.29 C142.10,274.32 142.66,274.34 143.21,274.36 C143.77,274.38 144.32,274.40 144.88,274.41 C145.43,274.42 145.98,274.43 146.54,274.44 C147.09,274.45 147.65,274.46 148.20,274.46 C148.75,274.47 149.31,274.47 149.86,274.48 C150.42,274.48 150.97,274.48 151.53,274.49 C152.08,274.49 152.63,274.49 153.19,274.49 C153.74,274.49 154.30,274.49 154.85,274.49 C155.40,274.50 155.96,274.50 156.51,274.50 C157.07,274.50 157.62,274.50 158.18,274.50 C158.73,274.50 159.28,274.50 159.84,274.50 C160.39,274.50 161.22,274.50 161.50,274.50" fill="none" stroke="#1a1a1a" stroke-width="1.50" stroke-linejoin="round" stroke-dasharray="3,1.2"/>
<text transform="translate(226.60,126.30) scale(0.950,1)" text-anchor="end" font-size="6.80" fill="#3c3c3c">0</text>
<text transform="translate(226.60,110.23) scale(0.950,1)" text-anchor="end" font-size="6.80" fill="#3c3c3c">50</text>
<text transform="translate(226.60,94.17) scale(0.950,1)" text-anchor="end" font-size="6.80" fill="#3c3c3c">100</text>
<text transform="translate(226.60,78.10) scale(0.950,1)" text-anchor="end" font-size="6.80" fill="#3c3c3c">150</text>
<text transform="translate(226.60,62.03) scale(0.950,1)" text-anchor="end" font-size="6.80" fill="#3c3c3c">200</text>
<text transform="translate(226.60,45.97) scale(0.950,1)" text-anchor="end" font-size="6.80" fill="#3c3c3c">250</text>
<text transform="translate(226.60,29.90) scale(0.950,1)" text-anchor="end" font-size="6.80" fill="#3c3c3c">300</text>
<line x1="233.00" y1="124.20" x2="364.50" y2="124.20" stroke="#d9d9d9" stroke-width="1.00"/>
<line x1="364.30" y1="27.80" x2="364.30" y2="124.20" stroke="#d9d9d9" stroke-width="1.00"/>
<text transform="translate(233.10,135.00) scale(0.950,1)" text-anchor="middle" font-size="6.80" fill="#3c3c3c">-0.10%</text>
<text transform="translate(285.60,135.00) scale(0.950,1)" text-anchor="middle" font-size="6.80" fill="#3c3c3c">-0.08%</text>
<text transform="translate(338.20,135.00) scale(0.950,1)" text-anchor="middle" font-size="6.80" fill="#3c3c3c">-0.06%</text>
<line x1="225.30" y1="13.40" x2="244.00" y2="13.40" stroke="#a23f58" stroke-width="1.6"/>
<text transform="translate(245.70,15.50) scale(0.950,1)" text-anchor="start" font-size="6.80" fill="#3c3c3c">Mkt</text>
<line x1="263.00" y1="13.40" x2="282.00" y2="13.40" stroke="#3e8e9b" stroke-width="1.6"/>
<text transform="translate(283.30,15.50) scale(0.950,1)" text-anchor="start" font-size="6.80" fill="#3c3c3c">100</text>
<line x1="299.60" y1="13.40" x2="318.70" y2="13.40" stroke="#c3d45f" stroke-width="1.6"/>
<text transform="translate(320.00,15.50) scale(0.950,1)" text-anchor="start" font-size="6.80" fill="#3c3c3c">500</text>
<line x1="336.00" y1="13.40" x2="355.30" y2="13.40" stroke="#1a1a1a" stroke-width="1.6" stroke-dasharray="3,1.2"/>
<text transform="translate(356.70,15.50) scale(0.950,1)" text-anchor="start" font-size="6.80" fill="#3c3c3c">BSM</text>
<path d="M233.19,115.40 L234.27,115.46 L235.34,115.51 L236.40,115.53 L237.45,115.54 L238.50,115.54 L239.53,115.51 L240.57,115.47 L241.59,115.41 L242.60,115.34 L243.61,115.24 L244.61,115.13 L245.61,115.01 L246.60,114.87 L247.58,114.71 L248.56,114.54 L249.53,114.36 L250.49,114.16 L251.45,113.94 L252.40,113.72 L253.35,113.47 L254.29,113.22 L255.22,112.95 L256.15,112.67 L257.08,112.37 L258.00,112.06 L258.91,111.74 L259.82,111.41 L260.73,111.07 L261.63,110.71 L262.53,110.34 L263.42,109.96 L264.31,109.58 L265.20,109.18 L266.08,108.77 L266.95,108.35 L267.83,107.92 L268.70,107.48 L269.57,107.03 L270.43,106.57 L271.29,106.11 L272.15,105.63 L273.01,105.15 L273.86,104.66 L274.72,104.16 L275.56,103.65 L276.41,103.14 L277.26,102.62 L278.10,102.09 L278.94,101.56 L279.78,101.02 L280.62,100.47 L281.46,99.92 L282.29,99.37 L283.13,98.80 L283.96,98.24 L284.79,97.67 L285.63,97.09 L286.46,96.52 L287.29,95.94 L288.12,95.35 L288.95,94.77 L289.79,94.18 L290.62,93.59 L291.45,93.00 L292.28,92.41 L293.11,91.82 L293.95,91.23 L294.78,90.64 L295.62,90.04 L296.46,89.45 L297.29,88.87 L298.13,88.28 L298.97,87.69 L299.82,87.11 L300.66,86.53 L301.51,85.95 L302.35,85.38 L303.21,84.81 L304.06,84.24 L304.91,83.68 L305.77,83.13 L306.63,82.58 L307.50,82.03 L308.36,81.50 L309.23,80.97 L310.11,80.45 L310.98,79.94 L311.86,79.45 L312.75,78.96 L313.63,78.49 L314.53,78.03 L315.42,77.59 L316.32,77.16 L317.22,76.74 L318.13,76.33 L319.03,75.93 L319.94,75.54 L320.85,75.15 L321.76,74.78 L322.67,74.41 L323.58,74.04 L324.50,73.68 L325.41,73.32 L326.32,72.96 L327.23,72.61 L328.14,72.25 L329.04,71.89 L329.94,71.53 L330.84,71.16 L331.74,70.80 L332.64,70.42 L333.52,70.04 L334.41,69.66 L335.29,69.26 L336.17,68.86 L337.04,68.44 L337.90,68.02 L338.76,67.58 L339.61,67.13 L340.45,66.67 L341.29,66.19 L342.12,65.69 L342.94,65.18 L343.75,64.65 L344.55,64.10 L345.35,63.53 L346.13,62.94 L346.91,62.33 L347.67,61.70 L348.42,61.05 L349.16,60.39 L349.89,59.71 L350.61,59.01 L351.31,58.29 L352.01,57.56 L352.68,56.82 L353.35,56.06 L354.00,55.28 L354.64,54.49 L355.26,53.69 L355.87,52.88 L356.46,52.05 L357.03,51.21 L357.59,50.36 L358.13,49.50 L358.66,48.62 L359.17,47.74 L359.65,46.85 L360.13,45.95 L360.58,45.04 L361.01,44.12 L361.43,43.19 L361.82,42.26 L362.20,41.32 L362.55,40.38 L362.88,39.42 L363.19,38.47 L363.48,37.51 L363.75,36.54 L364.00,35.57 L364.22,34.60" fill="none" stroke="#a23f58" stroke-width="1.50" stroke-linejoin="round"/>
<path d="M233.19,122.01 L234.20,121.94 L235.21,121.87 L236.22,121.80 L237.23,121.73 L238.24,121.65 L239.26,121.58 L240.27,121.51 L241.28,121.43 L242.29,121.35 L243.30,121.27 L244.31,121.19 L245.32,121.11 L246.33,121.02 L247.34,120.93 L248.34,120.84 L249.35,120.74 L250.35,120.64 L251.36,120.53 L252.36,120.42 L253.36,120.30 L254.36,120.18 L255.36,120.06 L256.35,119.93 L257.34,119.79 L258.34,119.64 L259.33,119.49 L260.31,119.34 L261.30,119.17 L262.28,119.00 L263.26,118.82 L264.23,118.63 L265.21,118.44 L266.18,118.24 L267.14,118.02 L268.11,117.80 L269.07,117.57 L270.03,117.33 L270.98,117.08 L271.93,116.82 L272.88,116.55 L273.82,116.27 L274.76,115.98 L275.69,115.67 L276.62,115.36 L277.55,115.03 L278.47,114.69 L279.39,114.34 L280.30,113.98 L281.20,113.60 L282.11,113.22 L283.00,112.81 L283.90,112.40 L284.78,111.97 L285.66,111.52 L286.54,111.06 L287.41,110.59 L288.28,110.10 L289.13,109.60 L289.99,109.08 L290.83,108.55 L291.67,108.01 L292.51,107.46 L293.34,106.89 L294.16,106.31 L294.97,105.72 L295.78,105.12 L296.58,104.50 L297.38,103.88 L298.16,103.24 L298.94,102.60 L299.72,101.94 L300.48,101.27 L301.24,100.60 L301.99,99.92 L302.73,99.23 L303.47,98.53 L304.19,97.82 L304.91,97.10 L305.62,96.38 L306.32,95.65 L307.02,94.92 L307.70,94.18 L308.38,93.43 L309.05,92.68 L309.71,91.92 L310.36,91.15 L311.00,90.39 L311.63,89.61 L312.25,88.84 L312.87,88.05 L313.48,87.27 L314.08,86.48 L314.67,85.68 L315.26,84.88 L315.84,84.08 L316.41,83.28 L316.98,82.46 L317.54,81.65 L318.09,80.83 L318.64,80.01 L319.18,79.19 L319.72,78.36 L320.26,77.52 L320.79,76.69 L321.31,75.85 L321.84,75.01 L322.35,74.17 L322.87,73.32 L323.38,72.47 L323.89,71.61 L324.40,70.76 L324.90,69.90 L325.40,69.04 L325.90,68.18 L326.40,67.31 L326.90,66.44 L327.39,65.57 L327.89,64.70 L328.38,63.83 L328.87,62.95 L329.37,62.07 L329.86,61.19 L330.35,60.31 L330.84,59.43 L331.32,58.54 L331.81,57.66 L332.29,56.77 L332.77,55.88 L333.26,54.99 L333.73,54.10 L334.21,53.21 L334.69,52.32 L335.16,51.43 L335.63,50.53 L336.10,49.64 L336.56,48.74 L337.03,47.85 L337.49,46.95 L337.95,46.06 L338.40,45.16 L338.85,44.26 L339.30,43.37 L339.75,42.47 L340.19,41.57 L340.63,40.68 L341.07,39.78 L341.50,38.89 L341.93,37.99 L342.36,37.10 L342.78,36.20 L343.20,35.31 L343.62,34.42 L344.03,33.53 L344.43,32.64 L344.84,31.75 L345.23,30.86 L345.63,29.97 L346.02,29.09 L346.40,28.20" fill="none" stroke="#3e8e9b" stroke-width="1.50" stroke-linejoin="round"/>
<path d="M233.19,123.20 L234.19,123.13 L235.20,123.05 L236.20,122.98 L237.21,122.90 L238.22,122.83 L239.23,122.76 L240.24,122.69 L241.25,122.61 L242.26,122.54 L243.27,122.46 L244.28,122.39 L245.30,122.31 L246.31,122.23 L247.32,122.15 L248.33,122.07 L249.34,121.98 L250.36,121.89 L251.37,121.80 L252.38,121.71 L253.39,121.61 L254.40,121.50 L255.40,121.40 L256.41,121.28 L257.42,121.17 L258.42,121.04 L259.42,120.92 L260.42,120.78 L261.42,120.64 L262.42,120.50 L263.41,120.34 L264.40,120.18 L265.39,120.02 L266.38,119.84 L267.36,119.66 L268.34,119.47 L269.32,119.27 L270.30,119.07 L271.27,118.85 L272.24,118.63 L273.20,118.39 L274.16,118.15 L275.12,117.89 L276.08,117.63 L277.03,117.35 L277.97,117.07 L278.91,116.77 L279.85,116.46 L280.78,116.14 L281.71,115.81 L282.63,115.46 L283.55,115.10 L284.46,114.73 L285.37,114.35 L286.27,113.95 L287.17,113.54 L288.06,113.11 L288.95,112.68 L289.83,112.22 L290.70,111.76 L291.57,111.28 L292.43,110.79 L293.28,110.29 L294.13,109.77 L294.97,109.24 L295.81,108.70 L296.64,108.15 L297.46,107.59 L298.27,107.01 L299.08,106.43 L299.87,105.83 L300.66,105.22 L301.45,104.60 L302.22,103.97 L302.99,103.33 L303.75,102.68 L304.50,102.02 L305.24,101.35 L305.97,100.67 L306.70,99.98 L307.42,99.29 L308.12,98.58 L308.82,97.86 L309.51,97.14 L310.19,96.40 L310.86,95.66 L311.52,94.91 L312.17,94.15 L312.82,93.39 L313.45,92.62 L314.08,91.84 L314.70,91.05 L315.31,90.26 L315.92,89.46 L316.52,88.65 L317.11,87.84 L317.69,87.03 L318.27,86.21 L318.84,85.38 L319.41,84.55 L319.97,83.71 L320.53,82.87 L321.08,82.03 L321.62,81.18 L322.17,80.33 L322.70,79.47 L323.24,78.61 L323.77,77.75 L324.29,76.89 L324.82,76.02 L325.34,75.16 L325.86,74.29 L326.37,73.42 L326.88,72.54 L327.40,71.67 L327.90,70.80 L328.41,69.92 L328.92,69.05 L329.43,68.17 L329.93,67.30 L330.44,66.42 L330.94,65.55 L331.45,64.67 L331.95,63.80 L332.46,62.93 L332.96,62.06 L333.46,61.19 L333.97,60.32 L334.47,59.45 L334.97,58.58 L335.48,57.72 L335.98,56.85 L336.47,55.98 L336.97,55.11 L337.47,54.24 L337.96,53.37 L338.45,52.50 L338.94,51.63 L339.42,50.76 L339.90,49.88 L340.38,49.01 L340.86,48.13 L341.33,47.25 L341.80,46.37 L342.27,45.49 L342.73,44.61 L343.18,43.72 L343.64,42.84 L344.08,41.95 L344.53,41.05 L344.96,40.16 L345.40,39.26 L345.82,38.36 L346.24,37.45 L346.66,36.54 L347.07,35.63 L347.47,34.72 L347.87,33.80 L348.26,32.88 L348.64,31.95 L349.02,31.02 L349.39,30.09 L349.75,29.15 L350.11,28.21" fill="none" stroke="#c3d45f" stroke-width="1.50" stroke-linejoin="round"/>
<path d="M233.20,119.60 L234.21,119.59 L235.22,119.55 L236.22,119.49 L237.22,119.41 L238.21,119.31 L239.20,119.19 L240.19,119.05 L241.17,118.89 L242.15,118.72 L243.13,118.52 L244.10,118.31 L245.07,118.08 L246.03,117.84 L246.99,117.58 L247.95,117.31 L248.91,117.02 L249.86,116.72 L250.80,116.41 L251.75,116.09 L252.69,115.75 L253.63,115.40 L254.56,115.05 L255.50,114.68 L256.43,114.31 L257.35,113.92 L258.28,113.53 L259.20,113.13 L260.12,112.73 L261.03,112.31 L261.95,111.89 L262.86,111.46 L263.77,111.03 L264.67,110.59 L265.58,110.15 L266.48,109.70 L267.38,109.25 L268.28,108.79 L269.17,108.33 L270.06,107.87 L270.95,107.40 L271.84,106.93 L272.73,106.45 L273.61,105.97 L274.49,105.48 L275.37,104.99 L276.24,104.50 L277.11,104.00 L277.97,103.49 L278.83,102.98 L279.69,102.46 L280.54,101.94 L281.39,101.41 L282.23,100.88 L283.07,100.33 L283.90,99.79 L284.73,99.23 L285.55,98.67 L286.36,98.10 L287.17,97.52 L287.98,96.94 L288.77,96.35 L289.56,95.75 L290.35,95.14 L291.12,94.53 L291.89,93.90 L292.66,93.27 L293.41,92.63 L294.16,91.98 L294.90,91.32 L295.63,90.66 L296.36,89.98 L297.07,89.29 L297.78,88.60 L298.48,87.89 L299.17,87.17 L299.85,86.45 L300.52,85.72 L301.18,84.97 L301.83,84.22 L302.47,83.46 L303.10,82.70 L303.73,81.92 L304.34,81.14 L304.94,80.36 L305.53,79.56 L306.11,78.76 L306.68,77.96 L307.23,77.15 L307.78,76.33 L308.33,75.51 L308.86,74.68 L309.38,73.85 L309.90,73.02 L310.42,72.18 L310.92,71.33 L311.42,70.48 L311.92,69.63 L312.41,68.77 L312.90,67.91 L313.38,67.05 L313.86,66.19 L314.34,65.32 L314.82,64.45 L315.29,63.57 L315.77,62.70 L316.24,61.82 L316.72,60.94 L317.20,60.06 L317.68,59.18 L318.16,58.30 L318.64,57.41 L319.12,56.53 L319.61,55.64 L320.11,54.76 L320.61,53.87 L321.11,52.99 L321.62,52.10 L322.14,51.22 L322.66,50.33 L323.19,49.45 L323.72,48.57 L324.27,47.69 L324.81,46.81 L325.36,45.93 L325.91,45.05 L326.45,44.17 L327.00,43.29 L327.54,42.41 L328.07,41.53 L328.59,40.65 L329.11,39.77 L329.61,38.89 L330.10,38.01 L330.58,37.13 L331.04,36.24 L331.49,35.36 L331.91,34.47 L332.31,33.58 L332.69,32.69 L333.05,31.80 L333.38,30.90 L333.69,30.00 L333.96,29.11 L334.20,28.20" fill="none" stroke="#1a1a1a" stroke-width="1.50" stroke-linejoin="round" stroke-dasharray="3,1.2"/>
<text transform="translate(429.80,127.40) scale(0.900,1)" text-anchor="end" font-size="6.80" fill="#474747">0</text>
<text transform="translate(429.80,111.00) scale(0.900,1)" text-anchor="end" font-size="6.80" fill="#474747">50</text>
<text transform="translate(429.80,94.60) scale(0.900,1)" text-anchor="end" font-size="6.80" fill="#474747">100</text>
<text transform="translate(429.80,78.20) scale(0.900,1)" text-anchor="end" font-size="6.80" fill="#474747">150</text>
<text transform="translate(429.80,61.80) scale(0.900,1)" text-anchor="end" font-size="6.80" fill="#474747">200</text>
<text transform="translate(429.80,45.40) scale(0.900,1)" text-anchor="end" font-size="6.80" fill="#474747">250</text>
<text transform="translate(429.80,29.00) scale(0.900,1)" text-anchor="end" font-size="6.80" fill="#474747">300</text>
<line x1="435.50" y1="125.30" x2="570.60" y2="125.30" stroke="#d9d9d9" stroke-width="1.00"/>
<line x1="435.80" y1="26.90" x2="435.80" y2="125.30" stroke="#d9d9d9" stroke-width="1.00"/>
<text transform="translate(435.50,135.50) scale(0.900,1)" text-anchor="middle" font-size="6.80" fill="#474747">0.05%</text>
<text transform="translate(462.48,135.50) scale(0.900,1)" text-anchor="middle" font-size="6.80" fill="#474747">0.06%</text>
<text transform="translate(489.46,135.50) scale(0.900,1)" text-anchor="middle" font-size="6.80" fill="#474747">0.07%</text>
<text transform="translate(516.44,135.50) scale(0.900,1)" text-anchor="middle" font-size="6.80" fill="#474747">0.08%</text>
<text transform="translate(543.42,135.50) scale(0.900,1)" text-anchor="middle" font-size="6.80" fill="#474747">0.09%</text>
<text transform="translate(570.40,135.50) scale(0.900,1)" text-anchor="middle" font-size="6.80" fill="#474747">0.10%</text>
<line x1="430.70" y1="13.10" x2="449.00" y2="13.10" stroke="#a23f58" stroke-width="1.6"/>
<text transform="translate(451.00,15.20) scale(0.900,1)" text-anchor="start" font-size="6.80" fill="#474747">Mkt</text>
<line x1="468.00" y1="13.10" x2="486.70" y2="13.10" stroke="#3e8e9b" stroke-width="1.6"/>
<text transform="translate(488.70,15.20) scale(0.900,1)" text-anchor="start" font-size="6.80" fill="#474747">100</text>
<line x1="504.70" y1="13.10" x2="523.30" y2="13.10" stroke="#c3d45f" stroke-width="1.6"/>
<text transform="translate(525.00,15.20) scale(0.900,1)" text-anchor="start" font-size="6.80" fill="#474747">500</text>
<line x1="541.30" y1="13.10" x2="560.00" y2="13.10" stroke="#1a1a1a" stroke-width="1.6" stroke-dasharray="3,1.2"/>
<text transform="translate(561.60,15.20) scale(0.900,1)" text-anchor="start" font-size="6.80" fill="#474747">BSM</text>
<path d="M441.39,27.30 L441.97,28.14 L442.55,28.98 L443.13,29.82 L443.71,30.66 L444.29,31.49 L444.87,32.32 L445.45,33.15 L446.02,33.97 L446.60,34.80 L447.18,35.62 L447.76,36.44 L448.34,37.26 L448.92,38.07 L449.50,38.89 L450.08,39.70 L450.67,40.51 L451.25,41.32 L451.83,42.12 L452.42,42.93 L453.00,43.73 L453.59,44.53 L454.18,45.33 L454.77,46.13 L455.36,46.93 L455.95,47.72 L456.54,48.51 L457.14,49.31 L457.73,50.10 L458.33,50.89 L458.93,51.67 L459.53,52.46 L460.13,53.24 L460.74,54.03 L461.35,54.81 L461.95,55.59 L462.57,56.37 L463.18,57.15 L463.79,57.93 L464.41,58.71 L465.03,59.48 L465.65,60.26 L466.28,61.03 L466.91,61.80 L467.54,62.58 L468.17,63.35 L468.80,64.12 L469.44,64.89 L470.08,65.66 L470.73,66.43 L471.38,67.19 L472.03,67.95 L472.68,68.72 L473.34,69.48 L474.00,70.23 L474.66,70.99 L475.33,71.74 L476.00,72.49 L476.68,73.24 L477.35,73.98 L478.04,74.72 L478.72,75.45 L479.41,76.18 L480.11,76.91 L480.80,77.63 L481.51,78.35 L482.21,79.06 L482.92,79.76 L483.64,80.47 L484.36,81.16 L485.08,81.85 L485.81,82.53 L486.54,83.21 L487.28,83.88 L488.02,84.55 L488.77,85.21 L489.52,85.86 L490.28,86.50 L491.04,87.14 L491.81,87.77 L492.58,88.39 L493.36,89.00 L494.14,89.60 L494.93,90.20 L495.73,90.78 L496.53,91.36 L497.33,91.93 L498.14,92.49 L498.96,93.04 L499.78,93.59 L500.61,94.12 L501.44,94.65 L502.28,95.17 L503.12,95.68 L503.97,96.18 L504.82,96.68 L505.67,97.17 L506.54,97.65 L507.40,98.12 L508.27,98.59 L509.15,99.06 L510.03,99.51 L510.91,99.96 L511.80,100.41 L512.69,100.85 L513.58,101.28 L514.48,101.71 L515.39,102.14 L516.29,102.56 L517.20,102.97 L518.12,103.38 L519.04,103.79 L519.96,104.19 L520.88,104.59 L521.81,104.99 L522.74,105.38 L523.68,105.77 L524.61,106.15 L525.55,106.54 L526.50,106.91 L527.44,107.28 L528.39,107.64 L529.34,108.00 L530.30,108.35 L531.25,108.69 L532.21,109.03 L533.17,109.35 L534.14,109.67 L535.10,109.97 L536.07,110.27 L537.04,110.56 L538.01,110.83 L538.98,111.10 L539.96,111.35 L540.94,111.60 L541.91,111.84 L542.89,112.07 L543.87,112.29 L544.86,112.50 L545.84,112.70 L546.83,112.89 L547.81,113.08 L548.80,113.26 L549.79,113.43 L550.77,113.59 L551.76,113.74 L552.75,113.89 L553.74,114.03 L554.74,114.17 L555.73,114.29 L556.72,114.41 L557.71,114.53 L558.70,114.63 L559.70,114.73 L560.69,114.83 L561.68,114.92 L562.67,115.00 L563.66,115.08 L564.66,115.15 L565.65,115.22 L566.64,115.29 L567.63,115.34 L568.62,115.40 L569.61,115.45 L570.60,115.49" fill="none" stroke="#a23f58" stroke-width="1.50" stroke-linejoin="round"/>
<path d="M454.81,27.29 L455.25,28.21 L455.69,29.13 L456.12,30.05 L456.54,30.97 L456.97,31.89 L457.39,32.81 L457.81,33.73 L458.23,34.66 L458.64,35.58 L459.05,36.50 L459.47,37.43 L459.88,38.35 L460.28,39.27 L460.69,40.19 L461.10,41.11 L461.51,42.03 L461.91,42.95 L462.32,43.87 L462.73,44.79 L463.14,45.71 L463.54,46.62 L463.95,47.54 L464.36,48.45 L464.77,49.36 L465.19,50.28 L465.60,51.18 L466.02,52.09 L466.44,53.00 L466.86,53.90 L467.28,54.81 L467.71,55.71 L468.14,56.60 L468.58,57.50 L469.01,58.39 L469.46,59.29 L469.90,60.17 L470.35,61.06 L470.80,61.94 L471.26,62.83 L471.73,63.70 L472.20,64.58 L472.67,65.45 L473.15,66.32 L473.64,67.19 L474.13,68.05 L474.63,68.91 L475.13,69.76 L475.64,70.62 L476.16,71.46 L476.68,72.31 L477.21,73.15 L477.74,73.99 L478.28,74.82 L478.83,75.65 L479.38,76.47 L479.94,77.29 L480.50,78.11 L481.08,78.92 L481.65,79.72 L482.24,80.52 L482.83,81.32 L483.42,82.11 L484.03,82.90 L484.64,83.68 L485.25,84.46 L485.87,85.23 L486.50,86.00 L487.13,86.76 L487.78,87.51 L488.42,88.26 L489.08,89.00 L489.74,89.74 L490.40,90.47 L491.08,91.20 L491.76,91.92 L492.44,92.63 L493.13,93.34 L493.83,94.04 L494.54,94.73 L495.25,95.42 L495.97,96.10 L496.70,96.78 L497.43,97.44 L498.17,98.10 L498.91,98.76 L499.67,99.40 L500.43,100.04 L501.19,100.67 L501.96,101.30 L502.74,101.91 L503.53,102.52 L504.32,103.12 L505.12,103.72 L505.93,104.30 L506.74,104.88 L507.56,105.45 L508.39,106.01 L509.22,106.56 L510.07,107.11 L510.91,107.64 L511.77,108.17 L512.63,108.69 L513.50,109.20 L514.37,109.70 L515.25,110.19 L516.13,110.68 L517.02,111.16 L517.92,111.62 L518.82,112.08 L519.73,112.53 L520.64,112.97 L521.56,113.41 L522.48,113.83 L523.41,114.25 L524.34,114.65 L525.28,115.05 L526.22,115.44 L527.16,115.82 L528.11,116.19 L529.06,116.55 L530.02,116.90 L530.98,117.24 L531.94,117.58 L532.91,117.90 L533.88,118.22 L534.85,118.52 L535.82,118.82 L536.80,119.11 L537.78,119.38 L538.76,119.65 L539.75,119.91 L540.74,120.16 L541.72,120.40 L542.71,120.63 L543.71,120.85 L544.70,121.06 L545.70,121.27 L546.69,121.46 L547.69,121.64 L548.69,121.81 L549.69,121.97 L550.69,122.13 L551.69,122.27 L552.69,122.40 L553.69,122.53 L554.69,122.64 L555.69,122.74 L556.69,122.84 L557.69,122.92 L558.69,122.99 L559.69,123.06 L560.69,123.11 L561.69,123.15 L562.68,123.18 L563.68,123.21 L564.67,123.22 L565.66,123.22 L566.66,123.21 L567.64,123.19 L568.63,123.16 L569.62,123.12 L570.60,123.07" fill="none" stroke="#3e8e9b" stroke-width="1.50" stroke-linejoin="round"/>
<path d="M452.40,27.29 L452.95,28.19 L453.49,29.08 L454.00,29.98 L454.50,30.89 L454.98,31.79 L455.45,32.70 L455.90,33.60 L456.35,34.51 L456.78,35.43 L457.19,36.34 L457.60,37.25 L458.00,38.17 L458.40,39.09 L458.78,40.00 L459.16,40.92 L459.54,41.84 L459.91,42.76 L460.28,43.68 L460.64,44.60 L461.01,45.52 L461.38,46.44 L461.74,47.36 L462.11,48.28 L462.48,49.20 L462.86,50.12 L463.24,51.04 L463.63,51.96 L464.02,52.88 L464.43,53.79 L464.84,54.71 L465.25,55.62 L465.68,56.54 L466.11,57.45 L466.54,58.36 L466.98,59.26 L467.43,60.17 L467.88,61.07 L468.34,61.97 L468.80,62.87 L469.27,63.77 L469.73,64.66 L470.20,65.55 L470.68,66.44 L471.15,67.33 L471.63,68.21 L472.10,69.09 L472.58,69.96 L473.06,70.84 L473.54,71.70 L474.02,72.57 L474.50,73.43 L474.98,74.29 L475.46,75.14 L475.95,75.99 L476.44,76.83 L476.94,77.67 L477.44,78.51 L477.95,79.34 L478.46,80.16 L478.99,80.98 L479.52,81.80 L480.06,82.60 L480.61,83.41 L481.18,84.21 L481.75,85.00 L482.34,85.79 L482.94,86.57 L483.55,87.34 L484.17,88.11 L484.81,88.87 L485.45,89.63 L486.11,90.37 L486.78,91.12 L487.45,91.85 L488.14,92.58 L488.84,93.30 L489.54,94.01 L490.26,94.72 L490.99,95.42 L491.72,96.11 L492.46,96.79 L493.21,97.47 L493.97,98.13 L494.73,98.79 L495.50,99.44 L496.28,100.09 L497.07,100.72 L497.86,101.34 L498.66,101.96 L499.46,102.57 L500.27,103.17 L501.09,103.76 L501.91,104.34 L502.74,104.91 L503.58,105.48 L504.42,106.03 L505.26,106.58 L506.12,107.12 L506.97,107.65 L507.84,108.17 L508.70,108.68 L509.58,109.19 L510.45,109.69 L511.34,110.17 L512.22,110.65 L513.12,111.12 L514.01,111.58 L514.92,112.04 L515.82,112.48 L516.73,112.92 L517.65,113.35 L518.57,113.76 L519.49,114.17 L520.42,114.58 L521.35,114.97 L522.28,115.35 L523.22,115.73 L524.16,116.10 L525.11,116.46 L526.05,116.81 L527.01,117.15 L527.96,117.48 L528.92,117.81 L529.88,118.12 L530.84,118.43 L531.81,118.73 L532.78,119.02 L533.75,119.30 L534.73,119.57 L535.70,119.84 L536.68,120.09 L537.66,120.34 L538.64,120.58 L539.63,120.81 L540.62,121.03 L541.61,121.24 L542.60,121.45 L543.59,121.64 L544.58,121.83 L545.58,122.01 L546.57,122.18 L547.57,122.34 L548.57,122.49 L549.57,122.64 L550.57,122.77 L551.57,122.90 L552.57,123.02 L553.57,123.13 L554.57,123.23 L555.58,123.32 L556.58,123.41 L557.58,123.48 L558.59,123.55 L559.59,123.61 L560.59,123.66 L561.60,123.70 L562.60,123.73 L563.60,123.76 L564.60,123.77 L565.61,123.78 L566.61,123.78 L567.61,123.77 L568.60,123.75 L569.60,123.72 L570.60,123.68" fill="none" stroke="#c3d45f" stroke-width="1.50" stroke-linejoin="round"/>
<path d="M466.21,27.30 L466.57,28.23 L466.93,29.16 L467.30,30.09 L467.68,31.02 L468.06,31.95 L468.44,32.88 L468.83,33.80 L469.23,34.72 L469.63,35.64 L470.03,36.56 L470.45,37.48 L470.86,38.40 L471.28,39.31 L471.71,40.22 L472.14,41.13 L472.58,42.03 L473.02,42.94 L473.47,43.84 L473.92,44.74 L474.38,45.63 L474.84,46.53 L475.31,47.42 L475.78,48.30 L476.26,49.19 L476.74,50.07 L477.23,50.94 L477.72,51.82 L478.22,52.69 L478.73,53.55 L479.24,54.42 L479.75,55.28 L480.28,56.13 L480.80,56.98 L481.33,57.83 L481.87,58.67 L482.41,59.51 L482.96,60.35 L483.51,61.18 L484.07,62.01 L484.64,62.83 L485.21,63.65 L485.78,64.46 L486.36,65.27 L486.95,66.07 L487.54,66.87 L488.14,67.66 L488.74,68.45 L489.34,69.24 L489.96,70.01 L490.57,70.79 L491.20,71.56 L491.82,72.33 L492.46,73.09 L493.09,73.85 L493.74,74.61 L494.38,75.36 L495.03,76.11 L495.69,76.85 L496.35,77.59 L497.01,78.33 L497.68,79.06 L498.36,79.79 L499.03,80.52 L499.72,81.25 L500.40,81.97 L501.09,82.69 L501.78,83.40 L502.48,84.12 L503.18,84.83 L503.89,85.54 L504.59,86.25 L505.31,86.95 L506.02,87.65 L506.74,88.35 L507.46,89.05 L508.19,89.75 L508.92,90.44 L509.65,91.14 L510.38,91.83 L511.12,92.52 L511.86,93.20 L512.61,93.89 L513.35,94.57 L514.10,95.25 L514.86,95.92 L515.62,96.59 L516.38,97.26 L517.15,97.92 L517.92,98.57 L518.69,99.22 L519.46,99.87 L520.25,100.51 L521.03,101.15 L521.82,101.78 L522.61,102.40 L523.41,103.01 L524.21,103.62 L525.01,104.23 L525.82,104.82 L526.63,105.41 L527.45,105.99 L528.27,106.56 L529.09,107.12 L529.92,107.67 L530.76,108.22 L531.59,108.75 L532.44,109.28 L533.28,109.80 L534.14,110.30 L534.99,110.80 L535.85,111.28 L536.72,111.76 L537.59,112.22 L538.46,112.67 L539.34,113.11 L540.23,113.54 L541.12,113.95 L542.01,114.36 L542.91,114.75 L543.82,115.13 L544.73,115.49 L545.64,115.84 L546.56,116.19 L547.49,116.51 L548.42,116.83 L549.35,117.13 L550.30,117.42 L551.24,117.70 L552.19,117.96 L553.15,118.21 L554.11,118.45 L555.08,118.68 L556.06,118.89 L557.04,119.09 L558.02,119.28 L559.01,119.45 L560.01,119.61 L561.01,119.76 L562.02,119.89 L563.04,120.01 L564.06,120.12 L565.08,120.22 L566.12,120.30 L567.16,120.37 L568.20,120.42 L569.25,120.46 L570.31,120.49" fill="none" stroke="#1a1a1a" stroke-width="1.50" stroke-linejoin="round" stroke-dasharray="3,1.2"/>
<text transform="translate(225.50,276.80) scale(0.900,1)" text-anchor="end" font-size="6.80" fill="#474747">0</text>
<text transform="translate(225.50,260.38) scale(0.900,1)" text-anchor="end" font-size="6.80" fill="#474747">50</text>
<text transform="translate(225.50,243.97) scale(0.900,1)" text-anchor="end" font-size="6.80" fill="#474747">100</text>
<text transform="translate(225.50,227.55) scale(0.900,1)" text-anchor="end" font-size="6.80" fill="#474747">150</text>
<text transform="translate(225.50,211.13) scale(0.900,1)" text-anchor="end" font-size="6.80" fill="#474747">200</text>
<text transform="translate(225.50,194.72) scale(0.900,1)" text-anchor="end" font-size="6.80" fill="#474747">250</text>
<text transform="translate(225.50,178.30) scale(0.900,1)" text-anchor="end" font-size="6.80" fill="#474747">300</text>
<line x1="231.20" y1="274.70" x2="365.50" y2="274.70" stroke="#d9d9d9" stroke-width="1.00"/>
<line x1="365.40" y1="177.00" x2="365.40" y2="274.70" stroke="#d9d9d9" stroke-width="1.00"/>
<text transform="translate(231.40,285.20) scale(0.900,1)" text-anchor="middle" font-size="6.80" fill="#474747">-0.10%</text>
<text transform="translate(258.20,285.20) scale(0.900,1)" text-anchor="middle" font-size="6.80" fill="#474747">-0.09%</text>
<text transform="translate(285.00,285.20) scale(0.900,1)" text-anchor="middle" font-size="6.80" fill="#474747">-0.08%</text>
<text transform="translate(311.80,285.20) scale(0.900,1)" text-anchor="middle" font-size="6.80" fill="#474747">-0.07%</text>
<text transform="translate(338.60,285.20) scale(0.900,1)" text-anchor="middle" font-size="6.80" fill="#474747">-0.06%</text>
<text transform="translate(365.40,285.20) scale(0.900,1)" text-anchor="middle" font-size="6.80" fill="#474747">-0.05%</text>
<line x1="224.40" y1="162.70" x2="243.00" y2="162.70" stroke="#9b2f4c" stroke-width="1.6"/>
<text transform="translate(245.00,164.80) scale(0.900,1)" text-anchor="start" font-size="6.80" fill="#474747">Mkt</text>
<line x1="260.00" y1="162.70" x2="278.70" y2="162.70" stroke="#e0893e" stroke-width="1.6"/>
<text transform="translate(280.30,164.80) scale(0.900,1)" text-anchor="start" font-size="6.80" fill="#474747">5000</text>
<line x1="298.00" y1="162.70" x2="316.40" y2="162.70" stroke="#b0b0b0" stroke-width="1.6"/>
<text transform="translate(318.00,164.80) scale(0.900,1)" text-anchor="start" font-size="6.80" fill="#474747">20000</text>
<line x1="339.00" y1="162.70" x2="358.00" y2="162.70" stroke="#1a1a1a" stroke-width="1.6" stroke-dasharray="3,1.2"/>
<text transform="translate(359.30,164.80) scale(0.900,1)" text-anchor="start" font-size="6.80" fill="#474747">BSM</text>
<path d="M231.19,266.10 L232.27,266.18 L233.34,266.24 L234.41,266.28 L235.47,266.31 L236.52,266.31 L237.56,266.31 L238.60,266.28 L239.62,266.23 L240.64,266.17 L241.66,266.10 L242.66,266.01 L243.66,265.90 L244.66,265.77 L245.64,265.63 L246.62,265.48 L247.60,265.31 L248.56,265.12 L249.53,264.92 L250.48,264.71 L251.43,264.48 L252.37,264.23 L253.31,263.98 L254.25,263.71 L255.17,263.42 L256.09,263.13 L257.01,262.82 L257.92,262.50 L258.83,262.16 L259.73,261.82 L260.63,261.46 L261.52,261.09 L262.41,260.71 L263.29,260.31 L264.17,259.91 L265.05,259.49 L265.92,259.07 L266.79,258.63 L267.65,258.19 L268.52,257.73 L269.37,257.26 L270.23,256.79 L271.08,256.30 L271.93,255.81 L272.77,255.31 L273.61,254.80 L274.45,254.28 L275.29,253.75 L276.12,253.21 L276.95,252.67 L277.78,252.12 L278.61,251.56 L279.44,250.99 L280.26,250.42 L281.08,249.84 L281.90,249.26 L282.72,248.67 L283.54,248.07 L284.35,247.48 L285.17,246.87 L285.99,246.27 L286.80,245.66 L287.61,245.04 L288.43,244.43 L289.24,243.81 L290.06,243.20 L290.87,242.58 L291.69,241.96 L292.50,241.35 L293.32,240.73 L294.14,240.11 L294.96,239.50 L295.78,238.89 L296.60,238.28 L297.43,237.68 L298.25,237.08 L299.08,236.48 L299.91,235.89 L300.75,235.30 L301.58,234.72 L302.42,234.15 L303.26,233.58 L304.11,233.02 L304.96,232.47 L305.81,231.92 L306.67,231.39 L307.53,230.86 L308.39,230.34 L309.26,229.84 L310.13,229.34 L311.01,228.85 L311.89,228.38 L312.78,227.92 L313.67,227.47 L314.57,227.03 L315.48,226.61 L316.38,226.20 L317.30,225.79 L318.21,225.40 L319.13,225.02 L320.06,224.65 L320.98,224.28 L321.91,223.92 L322.84,223.57 L323.77,223.22 L324.70,222.87 L325.63,222.53 L326.56,222.19 L327.49,221.85 L328.42,221.51 L329.35,221.17 L330.28,220.82 L331.21,220.48 L332.13,220.13 L333.05,219.78 L333.96,219.42 L334.87,219.05 L335.78,218.68 L336.68,218.30 L337.58,217.91 L338.47,217.51 L339.35,217.10 L340.23,216.68 L341.10,216.25 L341.97,215.80 L342.82,215.34 L343.67,214.86 L344.51,214.37 L345.34,213.86 L346.16,213.34 L346.97,212.80 L347.76,212.25 L348.55,211.69 L349.33,211.11 L350.09,210.51 L350.84,209.90 L351.58,209.27 L352.31,208.63 L353.02,207.97 L353.72,207.30 L354.40,206.61 L355.07,205.91 L355.72,205.19 L356.36,204.46 L356.98,203.71 L357.59,202.95 L358.17,202.17 L358.74,201.38 L359.29,200.57 L359.83,199.75 L360.34,198.91 L360.83,198.05 L361.31,197.18 L361.76,196.30 L362.20,195.40 L362.61,194.48 L363.00,193.55 L363.37,192.60 L363.71,191.64 L364.04,190.66 L364.34,189.67 L364.61,188.66 L364.87,187.64 L365.09,186.60 L365.30,185.54 L365.47,184.47 L365.62,183.39" fill="none" stroke="#9b2f4c" stroke-width="1.50" stroke-linejoin="round"/>
<path d="M231.18,268.81 L232.20,268.75 L233.22,268.69 L234.24,268.62 L235.26,268.56 L236.28,268.49 L237.31,268.42 L238.33,268.35 L239.35,268.27 L240.37,268.20 L241.40,268.13 L242.42,268.05 L243.44,267.98 L244.46,267.90 L245.48,267.83 L246.51,267.76 L247.53,267.69 L248.55,267.62 L249.57,267.55 L250.59,267.48 L251.60,267.42 L252.62,267.36 L253.64,267.30 L254.65,267.25 L255.66,267.20 L256.68,267.15 L257.69,267.11 L258.70,267.06 L259.71,267.02 L260.71,266.98 L261.72,266.94 L262.72,266.90 L263.72,266.86 L264.72,266.82 L265.72,266.77 L266.72,266.72 L267.71,266.67 L268.70,266.62 L269.69,266.55 L270.68,266.48 L271.66,266.41 L272.65,266.33 L273.63,266.24 L274.60,266.14 L275.58,266.03 L276.55,265.92 L277.52,265.79 L278.48,265.65 L279.44,265.50 L280.40,265.33 L281.36,265.16 L282.31,264.97 L283.26,264.76 L284.21,264.54 L285.15,264.31 L286.09,264.06 L287.03,263.79 L287.96,263.51 L288.88,263.22 L289.81,262.91 L290.73,262.59 L291.64,262.26 L292.56,261.91 L293.46,261.55 L294.37,261.18 L295.27,260.79 L296.16,260.39 L297.05,259.98 L297.93,259.55 L298.82,259.11 L299.69,258.67 L300.56,258.21 L301.43,257.73 L302.29,257.25 L303.14,256.76 L304.00,256.25 L304.84,255.73 L305.68,255.21 L306.52,254.67 L307.35,254.12 L308.17,253.57 L308.99,253.00 L309.80,252.42 L310.61,251.84 L311.41,251.24 L312.20,250.64 L312.99,250.03 L313.77,249.41 L314.55,248.78 L315.32,248.14 L316.08,247.49 L316.84,246.84 L317.59,246.18 L318.34,245.51 L319.07,244.83 L319.81,244.15 L320.53,243.46 L321.25,242.76 L321.97,242.06 L322.68,241.34 L323.38,240.62 L324.07,239.90 L324.76,239.17 L325.45,238.43 L326.13,237.68 L326.80,236.93 L327.46,236.17 L328.13,235.41 L328.78,234.64 L329.43,233.87 L330.07,233.09 L330.71,232.30 L331.34,231.51 L331.97,230.72 L332.59,229.91 L333.21,229.11 L333.82,228.30 L334.42,227.48 L335.02,226.66 L335.62,225.83 L336.20,225.01 L336.79,224.17 L337.37,223.33 L337.94,222.49 L338.51,221.65 L339.07,220.80 L339.63,219.94 L340.18,219.09 L340.73,218.23 L341.27,217.36 L341.81,216.50 L342.34,215.63 L342.87,214.75 L343.39,213.88 L343.91,213.00 L344.42,212.12 L344.93,211.23 L345.43,210.35 L345.93,209.46 L346.43,208.57 L346.92,207.68 L347.40,206.78 L347.88,205.89 L348.36,204.99 L348.83,204.09 L349.30,203.19 L349.76,202.29 L350.22,201.39 L350.67,200.48 L351.12,199.58 L351.57,198.67 L352.01,197.77 L352.45,196.86 L352.88,195.95 L353.31,195.05 L353.74,194.14 L354.16,193.23 L354.57,192.32 L354.99,191.41 L355.39,190.51 L355.80,189.60 L356.20,188.69 L356.60,187.79 L356.99,186.88 L357.38,185.98 L357.77,185.07 L358.15,184.17 L358.53,183.27 L358.90,182.37 L359.28,181.47 L359.64,180.58 L360.01,179.68 L360.37,178.79 L360.73,177.90 L361.08,177.01" fill="none" stroke="#e0893e" stroke-width="1.50" stroke-linejoin="round"/>
<path d="M231.20,260.50 L232.18,260.33 L233.15,260.15 L234.13,259.97 L235.11,259.80 L236.09,259.62 L237.07,259.45 L238.05,259.27 L239.04,259.10 L240.02,258.93 L241.00,258.75 L241.99,258.58 L242.97,258.40 L243.96,258.23 L244.95,258.05 L245.93,257.88 L246.92,257.70 L247.91,257.53 L248.90,257.35 L249.89,257.17 L250.87,257.00 L251.86,256.82 L252.85,256.64 L253.84,256.46 L254.83,256.27 L255.82,256.09 L256.81,255.91 L257.80,255.72 L258.79,255.53 L259.78,255.35 L260.76,255.16 L261.75,254.96 L262.74,254.77 L263.73,254.57 L264.71,254.38 L265.70,254.18 L266.68,253.98 L267.67,253.77 L268.65,253.57 L269.63,253.36 L270.62,253.15 L271.60,252.93 L272.58,252.72 L273.56,252.50 L274.54,252.28 L275.51,252.06 L276.49,251.83 L277.46,251.60 L278.44,251.37 L279.41,251.13 L280.38,250.89 L281.35,250.65 L282.32,250.41 L283.29,250.16 L284.25,249.90 L285.21,249.65 L286.18,249.39 L287.14,249.12 L288.09,248.85 L289.05,248.58 L290.00,248.30 L290.96,248.02 L291.91,247.73 L292.86,247.44 L293.80,247.14 L294.75,246.84 L295.69,246.53 L296.63,246.22 L297.57,245.90 L298.50,245.58 L299.43,245.25 L300.36,244.91 L301.29,244.57 L302.22,244.22 L303.14,243.86 L304.06,243.50 L304.97,243.13 L305.89,242.76 L306.80,242.37 L307.71,241.98 L308.61,241.59 L309.52,241.18 L310.42,240.77 L311.31,240.35 L312.21,239.93 L313.10,239.49 L313.98,239.05 L314.87,238.60 L315.75,238.14 L316.62,237.67 L317.50,237.19 L318.36,236.71 L319.23,236.21 L320.09,235.71 L320.95,235.20 L321.81,234.68 L322.66,234.15 L323.50,233.61 L324.35,233.06 L325.19,232.50 L326.02,231.94 L326.85,231.37 L327.68,230.79 L328.50,230.20 L329.31,229.61 L330.12,229.00 L330.93,228.39 L331.73,227.77 L332.53,227.15 L333.32,226.52 L334.11,225.88 L334.89,225.23 L335.67,224.58 L336.44,223.92 L337.20,223.26 L337.96,222.58 L338.71,221.91 L339.46,221.22 L340.20,220.53 L340.94,219.84 L341.67,219.14 L342.39,218.43 L343.11,217.72 L343.82,217.00 L344.52,216.28 L345.22,215.55 L345.91,214.82 L346.59,214.09 L347.27,213.35 L347.94,212.60 L348.60,211.85 L349.25,211.10 L349.90,210.34 L350.54,209.58 L351.18,208.82 L351.80,208.05 L352.42,207.28 L353.03,206.50 L353.63,205.72 L354.23,204.94 L354.81,204.15 L355.38,203.36 L355.95,202.56 L356.50,201.76 L357.05,200.95 L357.58,200.14 L358.10,199.31 L358.61,198.49 L359.11,197.65 L359.59,196.81 L360.06,195.96 L360.52,195.10 L360.96,194.24 L361.39,193.36 L361.80,192.48 L362.20,191.58 L362.58,190.68 L362.95,189.77 L363.30,188.84 L363.63,187.91 L363.94,186.96 L364.24,186.00 L364.52,185.04 L364.78,184.05 L365.02,183.06 L365.24,182.06 L365.44,181.04 L365.62,180.00" fill="none" stroke="#b0b0b0" stroke-width="1.50" stroke-linejoin="round"/>
<path d="M231.20,270.40 L232.20,270.36 L233.20,270.30 L234.19,270.22 L235.18,270.13 L236.17,270.01 L237.16,269.88 L238.14,269.73 L239.13,269.56 L240.11,269.37 L241.09,269.17 L242.06,268.96 L243.03,268.72 L244.00,268.48 L244.97,268.21 L245.94,267.94 L246.90,267.65 L247.86,267.34 L248.82,267.03 L249.77,266.70 L250.73,266.36 L251.67,266.01 L252.62,265.65 L253.56,265.27 L254.50,264.89 L255.44,264.49 L256.38,264.09 L257.31,263.68 L258.23,263.26 L259.16,262.83 L260.08,262.40 L261.00,261.95 L261.91,261.50 L262.82,261.05 L263.73,260.59 L264.63,260.12 L265.53,259.65 L266.43,259.17 L267.32,258.69 L268.21,258.20 L269.10,257.72 L269.98,257.22 L270.86,256.73 L271.73,256.23 L272.60,255.73 L273.47,255.22 L274.33,254.71 L275.19,254.20 L276.04,253.68 L276.89,253.15 L277.73,252.62 L278.57,252.08 L279.40,251.54 L280.23,251.00 L281.05,250.44 L281.87,249.88 L282.68,249.32 L283.49,248.74 L284.29,248.16 L285.09,247.58 L285.88,246.98 L286.66,246.38 L287.44,245.77 L288.22,245.15 L288.98,244.53 L289.74,243.89 L290.50,243.25 L291.24,242.60 L291.99,241.94 L292.72,241.27 L293.45,240.59 L294.17,239.91 L294.89,239.21 L295.59,238.51 L296.30,237.80 L296.99,237.09 L297.68,236.36 L298.36,235.63 L299.04,234.89 L299.71,234.15 L300.38,233.40 L301.04,232.64 L301.69,231.87 L302.34,231.10 L302.98,230.33 L303.61,229.55 L304.24,228.76 L304.87,227.97 L305.49,227.17 L306.10,226.37 L306.71,225.56 L307.32,224.75 L307.92,223.93 L308.51,223.11 L309.10,222.29 L309.69,221.46 L310.27,220.63 L310.84,219.79 L311.41,218.95 L311.98,218.11 L312.54,217.26 L313.10,216.42 L313.65,215.57 L314.20,214.71 L314.75,213.86 L315.29,213.00 L315.83,212.14 L316.36,211.28 L316.89,210.42 L317.42,209.56 L317.94,208.69 L318.46,207.83 L318.97,206.96 L319.48,206.09 L319.99,205.23 L320.49,204.36 L320.99,203.49 L321.49,202.63 L321.98,201.76 L322.47,200.89 L322.95,200.02 L323.44,199.15 L323.91,198.28 L324.39,197.40 L324.86,196.53 L325.33,195.65 L325.80,194.77 L326.26,193.89 L326.72,193.01 L327.17,192.13 L327.62,191.24 L328.07,190.35 L328.52,189.46 L328.96,188.56 L329.40,187.67 L329.83,186.76 L330.26,185.86 L330.69,184.95 L331.12,184.04 L331.54,183.13 L331.96,182.21 L332.37,181.28 L332.78,180.36 L333.19,179.42 L333.60,178.49 L334.00,177.55 L334.40,176.60" fill="none" stroke="#1a1a1a" stroke-width="1.50" stroke-linejoin="round" stroke-dasharray="3,1.2"/>
<text transform="translate(429.60,276.80) scale(0.900,1)" text-anchor="end" font-size="6.80" fill="#474747">0</text>
<text transform="translate(429.60,260.38) scale(0.900,1)" text-anchor="end" font-size="6.80" fill="#474747">50</text>
<text transform="translate(429.60,243.97) scale(0.900,1)" text-anchor="end" font-size="6.80" fill="#474747">100</text>
<text transform="translate(429.60,227.55) scale(0.900,1)" text-anchor="end" font-size="6.80" fill="#474747">150</text>
<text transform="translate(429.60,211.13) scale(0.900,1)" text-anchor="end" font-size="6.80" fill="#474747">200</text>
<text transform="translate(429.60,194.72) scale(0.900,1)" text-anchor="end" font-size="6.80" fill="#474747">250</text>
<text transform="translate(429.60,178.30) scale(0.900,1)" text-anchor="end" font-size="6.80" fill="#474747">300</text>
<line x1="435.30" y1="274.70" x2="570.60" y2="274.70" stroke="#d9d9d9" stroke-width="1.00"/>
<line x1="435.60" y1="177.00" x2="435.60" y2="274.70" stroke="#d9d9d9" stroke-width="1.00"/>
<text transform="translate(435.30,285.20) scale(0.900,1)" text-anchor="middle" font-size="6.80" fill="#474747">0.05%</text>
<text transform="translate(462.30,285.20) scale(0.900,1)" text-anchor="middle" font-size="6.80" fill="#474747">0.06%</text>
<text transform="translate(489.30,285.20) scale(0.900,1)" text-anchor="middle" font-size="6.80" fill="#474747">0.07%</text>
<text transform="translate(516.30,285.20) scale(0.900,1)" text-anchor="middle" font-size="6.80" fill="#474747">0.08%</text>
<text transform="translate(543.30,285.20) scale(0.900,1)" text-anchor="middle" font-size="6.80" fill="#474747">0.09%</text>
<text transform="translate(570.30,285.20) scale(0.900,1)" text-anchor="middle" font-size="6.80" fill="#474747">0.10%</text>
<line x1="428.70" y1="162.70" x2="447.00" y2="162.70" stroke="#9b2f4c" stroke-width="1.6"/>
<text transform="translate(448.70,164.80) scale(0.900,1)" text-anchor="start" font-size="6.80" fill="#474747">Mkt</text>
<line x1="464.00" y1="162.70" x2="482.70" y2="162.70" stroke="#e0893e" stroke-width="1.6"/>
<text transform="translate(484.30,164.80) scale(0.900,1)" text-anchor="start" font-size="6.80" fill="#474747">5000</text>
<line x1="502.00" y1="162.70" x2="520.70" y2="162.70" stroke="#b0b0b0" stroke-width="1.6"/>
<text transform="translate(522.40,164.80) scale(0.900,1)" text-anchor="start" font-size="6.80" fill="#474747">20000</text>
<line x1="543.30" y1="162.70" x2="561.60" y2="162.70" stroke="#1a1a1a" stroke-width="1.6" stroke-dasharray="3,1.2"/>
<text transform="translate(563.30,164.80) scale(0.900,1)" text-anchor="start" font-size="6.80" fill="#474747">BSM</text>
<path d="M441.39,176.60 L441.88,177.47 L442.38,178.33 L442.88,179.19 L443.38,180.05 L443.89,180.91 L444.41,181.76 L444.92,182.62 L445.44,183.47 L445.96,184.32 L446.49,185.16 L447.02,186.01 L447.56,186.85 L448.09,187.69 L448.64,188.53 L449.18,189.36 L449.73,190.20 L450.28,191.03 L450.84,191.86 L451.40,192.68 L451.97,193.51 L452.53,194.33 L453.10,195.15 L453.68,195.96 L454.26,196.78 L454.84,197.59 L455.43,198.40 L456.02,199.20 L456.61,200.00 L457.21,200.80 L457.81,201.60 L458.42,202.39 L459.03,203.18 L459.64,203.97 L460.25,204.75 L460.87,205.54 L461.50,206.31 L462.13,207.09 L462.76,207.86 L463.39,208.63 L464.03,209.39 L464.68,210.16 L465.32,210.91 L465.97,211.67 L466.63,212.42 L467.29,213.17 L467.95,213.91 L468.61,214.65 L469.28,215.39 L469.96,216.12 L470.64,216.85 L471.32,217.58 L472.00,218.30 L472.69,219.02 L473.38,219.73 L474.08,220.44 L474.78,221.15 L475.49,221.85 L476.19,222.55 L476.91,223.24 L477.62,223.93 L478.34,224.62 L479.07,225.30 L479.79,225.98 L480.53,226.65 L481.26,227.32 L482.00,227.98 L482.74,228.64 L483.49,229.30 L484.24,229.95 L485.00,230.59 L485.76,231.23 L486.52,231.87 L487.29,232.50 L488.06,233.13 L488.83,233.75 L489.61,234.37 L490.39,234.98 L491.18,235.59 L491.97,236.20 L492.76,236.79 L493.56,237.39 L494.37,237.97 L495.17,238.56 L495.98,239.14 L496.80,239.71 L497.61,240.28 L498.43,240.84 L499.26,241.39 L500.09,241.95 L500.92,242.49 L501.76,243.03 L502.60,243.57 L503.44,244.10 L504.29,244.62 L505.14,245.14 L505.99,245.65 L506.85,246.16 L507.71,246.66 L508.57,247.16 L509.44,247.65 L510.31,248.13 L511.18,248.61 L512.06,249.08 L512.94,249.55 L513.83,250.01 L514.71,250.47 L515.60,250.91 L516.50,251.36 L517.39,251.79 L518.29,252.22 L519.19,252.65 L520.10,253.06 L521.01,253.47 L521.92,253.88 L522.83,254.28 L523.75,254.67 L524.67,255.05 L525.59,255.43 L526.51,255.80 L527.44,256.17 L528.37,256.53 L529.31,256.88 L530.24,257.23 L531.18,257.56 L532.12,257.90 L533.07,258.22 L534.01,258.54 L534.96,258.85 L535.91,259.15 L536.87,259.45 L537.82,259.74 L538.78,260.02 L539.74,260.30 L540.70,260.57 L541.67,260.83 L542.64,261.08 L543.61,261.33 L544.58,261.57 L545.55,261.80 L546.53,262.03 L547.51,262.24 L548.49,262.45 L549.47,262.65 L550.45,262.85 L551.44,263.04 L552.43,263.21 L553.42,263.39 L554.41,263.55 L555.40,263.70 L556.40,263.85 L557.40,263.99 L558.40,264.12 L559.40,264.25 L560.40,264.36 L561.40,264.47 L562.41,264.57 L563.42,264.66 L564.43,264.75 L565.44,264.82 L566.45,264.89 L567.46,264.95 L568.48,265.00 L569.49,265.04 L570.51,265.07" fill="none" stroke="#9b2f4c" stroke-width="1.50" stroke-linejoin="round"/>
<path d="M441.39,176.60 L441.91,177.50 L442.42,178.41 L442.92,179.31 L443.41,180.21 L443.90,181.11 L444.38,182.01 L444.86,182.91 L445.33,183.81 L445.80,184.71 L446.26,185.61 L446.72,186.51 L447.17,187.41 L447.61,188.31 L448.06,189.20 L448.50,190.10 L448.93,191.00 L449.37,191.89 L449.79,192.79 L450.22,193.69 L450.64,194.59 L451.07,195.48 L451.48,196.38 L451.90,197.28 L452.31,198.17 L452.73,199.07 L453.14,199.97 L453.55,200.86 L453.96,201.76 L454.37,202.66 L454.78,203.56 L455.18,204.46 L455.59,205.35 L456.00,206.25 L456.41,207.15 L456.82,208.05 L457.23,208.95 L457.64,209.86 L458.05,210.76 L458.46,211.66 L458.88,212.56 L459.29,213.47 L459.71,214.37 L460.13,215.28 L460.56,216.18 L460.99,217.09 L461.42,218.00 L461.85,218.91 L462.29,219.82 L462.73,220.73 L463.17,221.64 L463.62,222.55 L464.08,223.47 L464.54,224.38 L465.00,225.30 L465.47,226.21 L465.94,227.12 L466.42,228.04 L466.90,228.95 L467.40,229.85 L467.89,230.76 L468.40,231.66 L468.91,232.55 L469.42,233.44 L469.95,234.33 L470.48,235.20 L471.02,236.08 L471.57,236.94 L472.12,237.80 L472.69,238.64 L473.26,239.48 L473.84,240.31 L474.43,241.13 L475.03,241.94 L475.64,242.74 L476.25,243.53 L476.88,244.30 L477.52,245.06 L478.17,245.81 L478.83,246.54 L479.50,247.26 L480.18,247.96 L480.87,248.65 L481.57,249.32 L482.29,249.98 L483.01,250.61 L483.75,251.23 L484.50,251.83 L485.27,252.42 L486.04,252.98 L486.83,253.52 L487.63,254.04 L488.45,254.54 L489.28,255.02 L490.12,255.48 L490.97,255.92 L491.84,256.35 L492.71,256.75 L493.60,257.14 L494.49,257.51 L495.40,257.87 L496.31,258.21 L497.24,258.54 L498.17,258.85 L499.11,259.15 L500.06,259.44 L501.02,259.72 L501.98,259.98 L502.96,260.23 L503.93,260.48 L504.92,260.71 L505.90,260.93 L506.90,261.15 L507.90,261.36 L508.90,261.56 L509.90,261.76 L510.91,261.94 L511.93,262.13 L512.94,262.31 L513.96,262.48 L514.98,262.66 L516.00,262.83 L517.02,262.99 L518.04,263.16 L519.06,263.32 L520.09,263.49 L521.11,263.65 L522.13,263.82 L523.15,263.99 L524.17,264.16 L525.18,264.33 L526.19,264.51 L527.20,264.69 L528.21,264.88 L529.21,265.07 L530.21,265.26 L531.21,265.46 L532.20,265.67 L533.19,265.87 L534.18,266.08 L535.16,266.29 L536.14,266.49 L537.12,266.70 L538.10,266.91 L539.08,267.11 L540.05,267.32 L541.03,267.51 L542.00,267.71 L542.97,267.90 L543.94,268.08 L544.91,268.26 L545.89,268.43 L546.86,268.60 L547.83,268.75 L548.80,268.90 L549.77,269.04 L550.75,269.16 L551.72,269.28 L552.70,269.38 L553.68,269.47 L554.66,269.54 L555.64,269.61 L556.63,269.66 L557.62,269.70 L558.61,269.73 L559.60,269.75 L560.60,269.76 L561.60,269.77 L562.60,269.77 L563.61,269.76 L564.62,269.74 L565.64,269.73 L566.66,269.70 L567.69,269.68 L568.72,269.65 L569.76,269.62 L570.80,269.60" fill="none" stroke="#e0893e" stroke-width="1.50" stroke-linejoin="round"/>
<path d="M436.31,178.40 L436.69,179.29 L437.08,180.18 L437.47,181.07 L437.87,181.97 L438.27,182.86 L438.68,183.75 L439.10,184.65 L439.52,185.54 L439.95,186.44 L440.38,187.33 L440.82,188.23 L441.26,189.12 L441.71,190.01 L442.17,190.90 L442.63,191.80 L443.10,192.69 L443.57,193.58 L444.05,194.46 L444.53,195.35 L445.02,196.23 L445.52,197.12 L446.02,198.00 L446.53,198.88 L447.04,199.75 L447.56,200.63 L448.09,201.50 L448.62,202.37 L449.16,203.23 L449.70,204.10 L450.25,204.96 L450.80,205.81 L451.36,206.66 L451.93,207.51 L452.50,208.36 L453.08,209.20 L453.66,210.04 L454.25,210.87 L454.85,211.70 L455.45,212.52 L456.05,213.34 L456.67,214.16 L457.28,214.96 L457.91,215.77 L458.54,216.57 L459.17,217.36 L459.81,218.15 L460.46,218.93 L461.11,219.71 L461.77,220.48 L462.44,221.24 L463.11,222.00 L463.78,222.75 L464.47,223.49 L465.15,224.23 L465.85,224.96 L466.55,225.68 L467.25,226.40 L467.96,227.10 L468.68,227.80 L469.40,228.50 L470.13,229.18 L470.87,229.86 L471.61,230.53 L472.35,231.18 L473.11,231.84 L473.86,232.48 L474.63,233.11 L475.40,233.74 L476.17,234.35 L476.95,234.96 L477.74,235.56 L478.53,236.14 L479.33,236.72 L480.14,237.29 L480.95,237.84 L481.76,238.39 L482.59,238.93 L483.41,239.45 L484.25,239.97 L485.09,240.47 L485.93,240.97 L486.78,241.45 L487.64,241.92 L488.50,242.38 L489.37,242.83 L490.25,243.27 L491.13,243.69 L492.02,244.10 L492.91,244.50 L493.80,244.90 L494.71,245.27 L495.62,245.64 L496.53,246.00 L497.45,246.35 L498.37,246.69 L499.30,247.02 L500.23,247.34 L501.16,247.65 L502.11,247.95 L503.05,248.25 L504.00,248.53 L504.95,248.81 L505.91,249.08 L506.87,249.34 L507.84,249.60 L508.80,249.84 L509.78,250.09 L510.75,250.32 L511.73,250.55 L512.71,250.77 L513.69,250.99 L514.68,251.20 L515.67,251.41 L516.66,251.61 L517.65,251.80 L518.65,252.00 L519.65,252.18 L520.65,252.37 L521.65,252.55 L522.65,252.73 L523.66,252.90 L524.67,253.07 L525.67,253.24 L526.68,253.41 L527.69,253.57 L528.71,253.73 L529.72,253.89 L530.73,254.05 L531.75,254.21 L532.76,254.37 L533.78,254.52 L534.79,254.68 L535.81,254.84 L536.82,254.99 L537.84,255.15 L538.85,255.31 L539.87,255.47 L540.88,255.62 L541.90,255.78 L542.91,255.94 L543.92,256.10 L544.93,256.26 L545.94,256.42 L546.95,256.58 L547.96,256.74 L548.97,256.90 L549.97,257.06 L550.97,257.22 L551.98,257.38 L552.97,257.55 L553.97,257.71 L554.97,257.87 L555.96,258.03 L556.95,258.20 L557.94,258.36 L558.92,258.52 L559.91,258.69 L560.88,258.85 L561.86,259.02 L562.83,259.18 L563.80,259.35 L564.77,259.51 L565.73,259.68 L566.69,259.84 L567.65,260.01 L568.60,260.18 L569.55,260.34 L570.49,260.51" fill="none" stroke="#b0b0b0" stroke-width="1.50" stroke-linejoin="round"/>
<path d="M466.09,176.61 L466.45,177.51 L466.82,178.40 L467.19,179.30 L467.56,180.19 L467.94,181.09 L468.33,181.99 L468.72,182.88 L469.12,183.78 L469.52,184.67 L469.92,185.57 L470.33,186.46 L470.75,187.36 L471.17,188.25 L471.60,189.15 L472.03,190.04 L472.46,190.94 L472.90,191.83 L473.35,192.72 L473.80,193.61 L474.26,194.50 L474.72,195.39 L475.18,196.27 L475.66,197.16 L476.13,198.04 L476.61,198.93 L477.10,199.81 L477.59,200.69 L478.09,201.57 L478.59,202.44 L479.09,203.32 L479.60,204.19 L480.12,205.06 L480.64,205.93 L481.16,206.79 L481.70,207.66 L482.23,208.52 L482.77,209.38 L483.32,210.23 L483.87,211.09 L484.42,211.94 L484.98,212.79 L485.54,213.63 L486.11,214.47 L486.69,215.31 L487.27,216.15 L487.85,216.98 L488.44,217.81 L489.03,218.64 L489.63,219.46 L490.23,220.28 L490.84,221.09 L491.46,221.91 L492.07,222.71 L492.69,223.52 L493.32,224.32 L493.95,225.11 L494.59,225.90 L495.23,226.69 L495.88,227.47 L496.53,228.25 L497.18,229.03 L497.84,229.80 L498.51,230.56 L499.18,231.32 L499.85,232.08 L500.53,232.83 L501.22,233.57 L501.90,234.31 L502.60,235.05 L503.29,235.78 L504.00,236.50 L504.70,237.22 L505.42,237.94 L506.13,238.64 L506.85,239.35 L507.58,240.04 L508.31,240.73 L509.04,241.42 L509.78,242.10 L510.53,242.77 L511.28,243.44 L512.03,244.10 L512.79,244.75 L513.55,245.40 L514.32,246.04 L515.09,246.67 L515.86,247.30 L516.64,247.92 L517.43,248.53 L518.22,249.14 L519.01,249.74 L519.81,250.33 L520.62,250.92 L521.42,251.50 L522.24,252.07 L523.05,252.63 L523.87,253.19 L524.70,253.74 L525.53,254.28 L526.36,254.81 L527.20,255.33 L528.05,255.85 L528.89,256.36 L529.75,256.86 L530.60,257.35 L531.47,257.84 L532.33,258.31 L533.20,258.78 L534.08,259.24 L534.95,259.69 L535.84,260.13 L536.73,260.56 L537.62,260.99 L538.51,261.40 L539.42,261.81 L540.32,262.20 L541.23,262.59 L542.14,262.97 L543.06,263.34 L543.98,263.70 L544.91,264.05 L545.84,264.39 L546.78,264.72 L547.72,265.04 L548.66,265.35 L549.61,265.65 L550.56,265.94 L551.52,266.22 L552.48,266.49 L553.45,266.75 L554.42,267.00 L555.39,267.23 L556.37,267.46 L557.35,267.68 L558.34,267.89 L559.33,268.08 L560.32,268.27 L561.32,268.44 L562.33,268.60 L563.34,268.75 L564.35,268.89 L565.36,269.02 L566.38,269.14 L567.41,269.25 L568.44,269.34 L569.47,269.42 L570.51,269.49" fill="none" stroke="#1a1a1a" stroke-width="1.50" stroke-linejoin="round" stroke-dasharray="3,1.2"/>
</svg></body></html>
